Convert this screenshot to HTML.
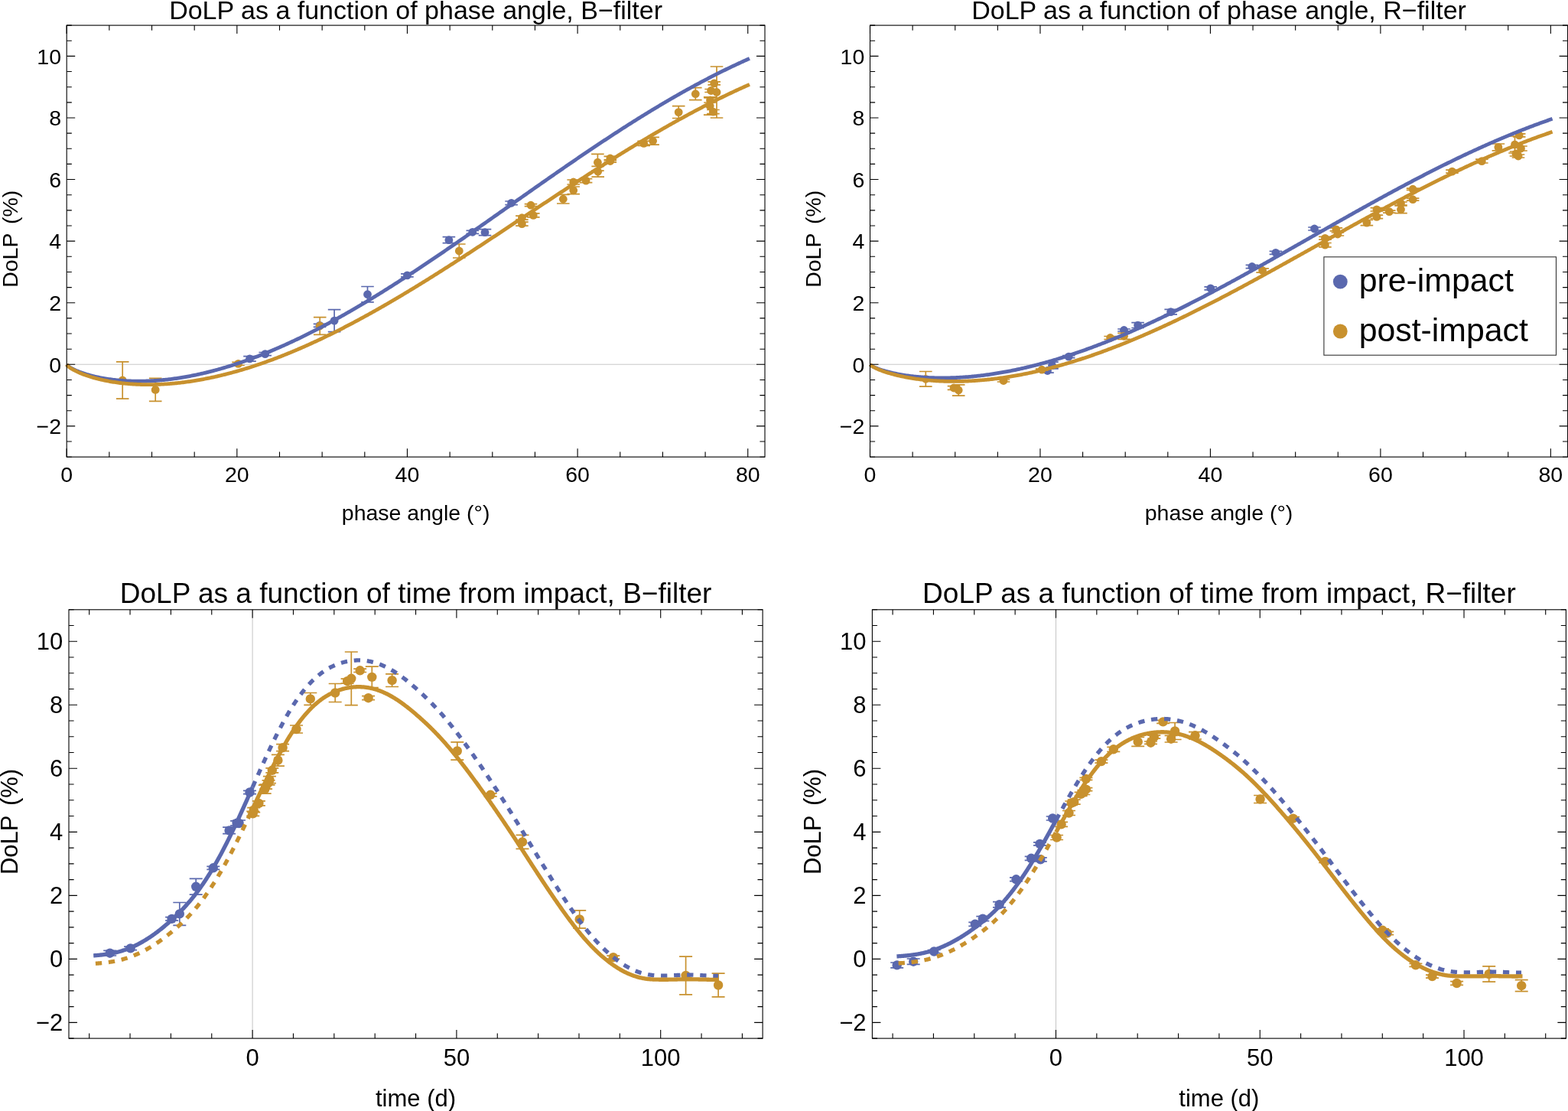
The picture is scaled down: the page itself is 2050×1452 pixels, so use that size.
<!DOCTYPE html>
<html><head><meta charset="utf-8"><title>DoLP plots</title><style>html,body{margin:0;padding:0;background:#fff;width:2050px;height:1452px;overflow:hidden}</style></head><body>
<svg xmlns="http://www.w3.org/2000/svg" width="2050" height="1452" viewBox="0 0 2050 1452" style="display:block;font-family:'Liberation Sans',Arial,Helvetica,sans-serif"><defs><clipPath id="cp1"><rect x="87.2" y="33.1" width="912.8" height="564.1"/></clipPath><clipPath id="cp2"><rect x="1137.5" y="33.1" width="912.1" height="564.1"/></clipPath><clipPath id="cp3"><rect x="90" y="796.8" width="907.1" height="560.3"/></clipPath><clipPath id="cp4"><rect x="1140.4" y="796.8" width="907" height="560.3"/></clipPath></defs>
<line x1="87.2" y1="476.32" x2="1000" y2="476.32" stroke="#c8c8c8" stroke-width="1.1"/>
<line x1="1137.5" y1="476.32" x2="2049.6" y2="476.32" stroke="#c8c8c8" stroke-width="1.1"/>
<line x1="330.11" y1="796.8" x2="330.11" y2="1357.1" stroke="#c8c8c8" stroke-width="1.1"/>
<line x1="1380.49" y1="796.8" x2="1380.49" y2="1357.1" stroke="#c8c8c8" stroke-width="1.1"/>
<g>
<path d="M326.5 465.6V472.2M318.2 465.6h16.6M318.2 472.2h16.6M346.7 460.5V464.7M338.4 460.5h16.6M338.4 464.7h16.6M418 423.3V427.3M409.7 423.3h16.6M409.7 427.3h16.6M437.1 404.6V433.6M428.8 404.6h16.6M428.8 433.6h16.6M480.5 374.5V394.9M472.2 374.5h16.6M472.2 394.9h16.6M532.4 357.9V361.9M524.1 357.9h16.6M524.1 361.9h16.6M586.9 309.7V317.7M578.6 309.7h16.6M578.6 317.7h16.6M617.8 301.3V305.3M609.5 301.3h16.6M609.5 305.3h16.6M634 299.7V307.7M625.7 299.7h16.6M625.7 307.7h16.6M668.6 263V267.6M660.3 263h16.6M660.3 267.6h16.6" stroke="#5A68AE" stroke-width="1.7" fill="none"/>
<g fill="#5A68AE"><circle cx="326.5" cy="468.9" r="5.4"/><circle cx="346.7" cy="462.6" r="5.4"/><circle cx="418" cy="425.3" r="5.4"/><circle cx="437.1" cy="419.1" r="5.4"/><circle cx="480.5" cy="384.7" r="5.4"/><circle cx="532.4" cy="359.9" r="5.4"/><circle cx="586.9" cy="313.7" r="5.4"/><circle cx="617.8" cy="303.3" r="5.4"/><circle cx="634" cy="303.7" r="5.4"/><circle cx="668.6" cy="265.3" r="5.4"/></g>
<path d="M160.2 472.8V521.2M151.9 472.8h16.6M151.9 521.2h16.6M203.2 494.4V524.4M194.9 494.4h16.6M194.9 524.4h16.6M311.5 473.3V477.5M303.2 473.3h16.6M303.2 477.5h16.6M418.2 414.7V437.3M409.9 414.7h16.6M409.9 437.3h16.6M600.3 319V337M592 319h16.6M592 337h16.6M682.4 282.2V287.2M674.1 282.2h16.6M674.1 287.2h16.6M682.4 290.1V295.1M674.1 290.1h16.6M674.1 295.1h16.6M694 266.7V269.7M685.7 266.7h16.6M685.7 269.7h16.6M697.3 278.9V283.9M689 278.9h16.6M689 283.9h16.6M736.3 254.4V266M728 254.4h16.6M728 266h16.6M749.7 235V241M741.4 235h16.6M741.4 241h16.6M749.7 244V253.6M741.4 244h16.6M741.4 253.6h16.6M766.1 233.6V238.6M757.8 233.6h16.6M757.8 238.6h16.6M781.4 201.3V223.1M773.1 201.3h16.6M773.1 223.1h16.6M781.7 217.4V231.2M773.4 217.4h16.6M773.4 231.2h16.6M797.8 204.3V209.7M789.5 204.3h16.6M789.5 209.7h16.6M797.8 208.9V212.1M789.5 208.9h16.6M789.5 212.1h16.6M841.7 184.4V190.4M833.4 184.4h16.6M833.4 190.4h16.6M853.6 179.4V189.2M845.3 179.4h16.6M845.3 189.2h16.6M887.2 138.7V154.5M878.9 138.7h16.6M878.9 154.5h16.6M909.3 114.7V130.7M901 114.7h16.6M901 130.7h16.6M933.7 106.9V110.9M925.4 106.9h16.6M925.4 110.9h16.6M929.6 116.5V120.5M921.3 116.5h16.6M921.3 120.5h16.6M937 87V154M928.7 87h16.6M928.7 154h16.6M928.5 128V134M920.2 128h16.6M920.2 134h16.6M928.2 126.8V150.2M919.9 126.8h16.6M919.9 150.2h16.6M932.4 143.5V148.7M924.1 143.5h16.6M924.1 148.7h16.6" stroke="#C8912E" stroke-width="1.7" fill="none"/>
<g fill="#C8912E"><circle cx="160.2" cy="497" r="5.4"/><circle cx="203.2" cy="509.4" r="5.4"/><circle cx="311.5" cy="475.4" r="5.4"/><circle cx="418.2" cy="426" r="5.4"/><circle cx="600.3" cy="328" r="5.4"/><circle cx="682.4" cy="284.7" r="5.4"/><circle cx="682.4" cy="292.6" r="5.4"/><circle cx="694" cy="268.2" r="5.4"/><circle cx="697.3" cy="281.4" r="5.4"/><circle cx="736.3" cy="260.2" r="5.4"/><circle cx="749.7" cy="238" r="5.4"/><circle cx="749.7" cy="248.8" r="5.4"/><circle cx="766.1" cy="236.1" r="5.4"/><circle cx="781.4" cy="212.2" r="5.4"/><circle cx="781.7" cy="224.3" r="5.4"/><circle cx="797.8" cy="207" r="5.4"/><circle cx="797.8" cy="210.5" r="5.4"/><circle cx="841.7" cy="187.4" r="5.4"/><circle cx="853.6" cy="184.3" r="5.4"/><circle cx="887.2" cy="146.6" r="5.4"/><circle cx="909.3" cy="122.7" r="5.4"/><circle cx="933.7" cy="108.9" r="5.4"/><circle cx="929.6" cy="118.5" r="5.4"/><circle cx="937" cy="120.5" r="5.4"/><circle cx="928.5" cy="131" r="5.4"/><circle cx="928.2" cy="138.5" r="5.4"/><circle cx="932.4" cy="146.1" r="5.4"/></g>
<path d="M87.2 476.32L88.69 478.06L90.18 479.21L91.67 480.2L93.16 481.09L94.65 481.91L96.14 482.68L97.63 483.4L99.12 484.08L100.61 484.73L102.1 485.34L103.59 485.94L105.09 486.5L106.58 487.05L108.07 487.57L109.56 488.08L111.05 488.56L112.54 489.03L114.03 489.48L115.52 489.92L117.01 490.34L118.5 490.74L119.99 491.13L121.48 491.51L122.97 491.87L124.46 492.22L125.95 492.56L127.44 492.89L128.93 493.2L130.42 493.5L131.91 493.79L133.4 494.07L134.89 494.34L136.38 494.6L137.87 494.85L139.36 495.09L140.86 495.32L142.35 495.54L143.84 495.75L145.33 495.94L146.82 496.13L148.31 496.32L149.8 496.49L151.29 496.65L152.78 496.8L154.27 496.95L155.76 497.09L157.25 497.21L158.74 497.33L160.23 497.44L161.72 497.55L163.21 497.64L164.7 497.73L166.19 497.81L167.68 497.88L169.17 497.94L170.66 498L172.15 498.05L173.64 498.09L175.13 498.12L176.63 498.14L178.12 498.16L179.61 498.17L181.1 498.17L182.59 498.17L184.08 498.16L185.57 498.14L187.06 498.12L188.55 498.08L190.04 498.04L191.53 498L193.02 497.95L194.51 497.89L196 497.82L197.49 497.75L198.98 497.67L200.47 497.58L201.96 497.49L203.45 497.39L204.94 497.28L206.43 497.17L207.92 497.05L209.41 496.92L210.91 496.79L212.4 496.65L213.89 496.51L215.38 496.36L216.87 496.2L218.36 496.04L219.85 495.87L221.34 495.69L222.83 495.51L224.32 495.32L225.81 495.13L227.3 494.93L228.79 494.73L230.28 494.52L231.77 494.3L233.26 494.08L234.75 493.85L236.24 493.61L237.73 493.37L239.22 493.13L240.71 492.87L242.2 492.62L243.69 492.35L245.18 492.08L246.68 491.81L248.17 491.53L249.66 491.24L251.15 490.95L252.64 490.66L254.13 490.35L255.62 490.05L257.11 489.73L258.6 489.42L260.09 489.09L261.58 488.76L263.07 488.43L264.56 488.09L266.05 487.74L267.54 487.39L269.03 487.04L270.52 486.68L272.01 486.31L273.5 485.94L274.99 485.56L276.48 485.18L277.97 484.8L279.46 484.4L280.95 484.01L282.45 483.61L283.94 483.2L285.43 482.79L286.92 482.37L288.41 481.95L289.9 481.52L291.39 481.09L292.88 480.66L294.37 480.21L295.86 479.77L297.35 479.32L298.84 478.86L300.33 478.4L301.82 477.94L303.31 477.47L304.8 476.99L306.29 476.51L307.78 476.03L309.27 475.54L310.76 475.05L312.25 474.55L313.74 474.05L315.23 473.54L316.73 473.03L318.22 472.51L319.71 471.99L321.2 471.47L322.69 470.94L324.18 470.4L325.67 469.86L327.16 469.32L328.65 468.77L330.14 468.22L331.63 467.66L333.12 467.1L334.61 466.54L336.1 465.97L337.59 465.4L339.08 464.82L340.57 464.24L342.06 463.65L343.55 463.06L345.04 462.47L346.53 461.87L348.02 461.26L349.51 460.66L351 460.05L352.5 459.43L353.99 458.81L355.48 458.19L356.97 457.56L358.46 456.93L359.95 456.29L361.44 455.66L362.93 455.01L364.42 454.36L365.91 453.71L367.4 453.06L368.89 452.4L370.38 451.74L371.87 451.07L373.36 450.4L374.85 449.73L376.34 449.05L377.83 448.37L379.32 447.68L380.81 446.99L382.3 446.3L383.79 445.6L385.28 444.9L386.77 444.2L388.27 443.49L389.76 442.78L391.25 442.06L392.74 441.34L394.23 440.62L395.72 439.9L397.21 439.17L398.7 438.43L400.19 437.7L401.68 436.96L403.17 436.22L404.66 435.47L406.15 434.72L407.64 433.97L409.13 433.21L410.62 432.45L412.11 431.69L413.6 430.92L415.09 430.15L416.58 429.38L418.07 428.6L419.56 427.82L421.05 427.04L422.55 426.25L424.04 425.46L425.53 424.67L427.02 423.87L428.51 423.07L430 422.27L431.49 421.47L432.98 420.66L434.47 419.85L435.96 419.03L437.45 418.22L438.94 417.4L440.43 416.57L441.92 415.75L443.41 414.92L444.9 414.09L446.39 413.25L447.88 412.41L449.37 411.57L450.86 410.73L452.35 409.88L453.84 409.03L455.33 408.18L456.82 407.33L458.32 406.47L459.81 405.61L461.3 404.75L462.79 403.88L464.28 403.01L465.77 402.14L467.26 401.27L468.75 400.39L470.24 399.51L471.73 398.63L473.22 397.75L474.71 396.86L476.2 395.97L477.69 395.08L479.18 394.19L480.67 393.29L482.16 392.39L483.65 391.49L485.14 390.59L486.63 389.68L488.12 388.77L489.61 387.86L491.1 386.95L492.59 386.03L494.09 385.12L495.58 384.2L497.07 383.27L498.56 382.35L500.05 381.42L501.54 380.49L503.03 379.56L504.52 378.63L506.01 377.7L507.5 376.76L508.99 375.82L510.48 374.88L511.97 373.93L513.46 372.99L514.95 372.04L516.44 371.09L517.93 370.14L519.42 369.19L520.91 368.23L522.4 367.27L523.89 366.31L525.38 365.35L526.87 364.39L528.36 363.42L529.86 362.46L531.35 361.49L532.84 360.52L534.33 359.55L535.82 358.57L537.31 357.6L538.8 356.62L540.29 355.64L541.78 354.66L543.27 353.68L544.76 352.69L546.25 351.71L547.74 350.72L549.23 349.73L550.72 348.74L552.21 347.75L553.7 346.76L555.19 345.76L556.68 344.77L558.17 343.77L559.66 342.77L561.15 341.77L562.64 340.77L564.14 339.77L565.63 338.76L567.12 337.76L568.61 336.75L570.1 335.74L571.59 334.73L573.08 333.72L574.57 332.71L576.06 331.69L577.55 330.68L579.04 329.66L580.53 328.65L582.02 327.63L583.51 326.61L585 325.59L586.49 324.57L587.98 323.55L589.47 322.52L590.96 321.5L592.45 320.47L593.94 319.45L595.43 318.42L596.92 317.39L598.41 316.36L599.91 315.33L601.4 314.3L602.89 313.27L604.38 312.24L605.87 311.2L607.36 310.17L608.85 309.14L610.34 308.1L611.83 307.06L613.32 306.03L614.81 304.99L616.3 303.95L617.79 302.91L619.28 301.87L620.77 300.83L622.26 299.79L623.75 298.75L625.24 297.71L626.73 296.66L628.22 295.62L629.71 294.58L631.2 293.53L632.69 292.49L634.18 291.44L635.68 290.4L637.17 289.35L638.66 288.3L640.15 287.26L641.64 286.21L643.13 285.16L644.62 284.12L646.11 283.07L647.6 282.02L649.09 280.97L650.58 279.92L652.07 278.87L653.56 277.82L655.05 276.78L656.54 275.73L658.03 274.68L659.52 273.63L661.01 272.58L662.5 271.53L663.99 270.48L665.48 269.43L666.97 268.38L668.46 267.33L669.96 266.28L671.45 265.23L672.94 264.18L674.43 263.13L675.92 262.08L677.41 261.03L678.9 259.98L680.39 258.93L681.88 257.89L683.37 256.84L684.86 255.79L686.35 254.74L687.84 253.69L689.33 252.64L690.82 251.6L692.31 250.55L693.8 249.5L695.29 248.46L696.78 247.41L698.27 246.37L699.76 245.32L701.25 244.28L702.74 243.23L704.23 242.19L705.73 241.15L707.22 240.1L708.71 239.06L710.2 238.02L711.69 236.98L713.18 235.94L714.67 234.9L716.16 233.86L717.65 232.82L719.14 231.78L720.63 230.75L722.12 229.71L723.61 228.67L725.1 227.64L726.59 226.6L728.08 225.57L729.57 224.54L731.06 223.51L732.55 222.48L734.04 221.45L735.53 220.42L737.02 219.39L738.51 218.36L740 217.33L741.5 216.31L742.99 215.28L744.48 214.26L745.97 213.24L747.46 212.22L748.95 211.2L750.44 210.18L751.93 209.16L753.42 208.14L754.91 207.12L756.4 206.11L757.89 205.1L759.38 204.08L760.87 203.07L762.36 202.06L763.85 201.05L765.34 200.04L766.83 199.04L768.32 198.03L769.81 197.03L771.3 196.03L772.79 195.02L774.28 194.02L775.78 193.03L777.27 192.03L778.76 191.03L780.25 190.04L781.74 189.04L783.23 188.05L784.72 187.06L786.21 186.07L787.7 185.09L789.19 184.1L790.68 183.12L792.17 182.14L793.66 181.15L795.15 180.18L796.64 179.2L798.13 178.22L799.62 177.25L801.11 176.27L802.6 175.3L804.09 174.33L805.58 173.37L807.07 172.4L808.56 171.44L810.05 170.48L811.55 169.51L813.04 168.56L814.53 167.6L816.02 166.64L817.51 165.69L819 164.74L820.49 163.79L821.98 162.84L823.47 161.9L824.96 160.95L826.45 160.01L827.94 159.07L829.43 158.14L830.92 157.2L832.41 156.27L833.9 155.33L835.39 154.41L836.88 153.48L838.37 152.55L839.86 151.63L841.35 150.71L842.84 149.79L844.33 148.87L845.82 147.96L847.32 147.05L848.81 146.14L850.3 145.23L851.79 144.32L853.28 143.42L854.77 142.52L856.26 141.62L857.75 140.72L859.24 139.83L860.73 138.94L862.22 138.05L863.71 137.16L865.2 136.27L866.69 135.39L868.18 134.51L869.67 133.63L871.16 132.76L872.65 131.89L874.14 131.02L875.63 130.15L877.12 129.28L878.61 128.42L880.1 127.56L881.6 126.7L883.09 125.85L884.58 125L886.07 124.15L887.56 123.3L889.05 122.46L890.54 121.61L892.03 120.77L893.52 119.94L895.01 119.1L896.5 118.27L897.99 117.44L899.48 116.62L900.97 115.8L902.46 114.98L903.95 114.16L905.44 113.34L906.93 112.53L908.42 111.72L909.91 110.92L911.4 110.11L912.89 109.31L914.38 108.52L915.87 107.72L917.37 106.93L918.86 106.14L920.35 105.36L921.84 104.57L923.33 103.79L924.82 103.02L926.31 102.24L927.8 101.47L929.29 100.7L930.78 99.94L932.27 99.18L933.76 98.42L935.25 97.66L936.74 96.91L938.23 96.16L939.72 95.41L941.21 94.67L942.7 93.93L944.19 93.19L945.68 92.46L947.17 91.73L948.66 91L950.15 90.28L951.64 89.56L953.14 88.84L954.63 88.12L956.12 87.41L957.61 86.7L959.1 86L960.59 85.3L962.08 84.6L963.57 83.9L965.06 83.21L966.55 82.52L968.04 81.84L969.53 81.16L971.02 80.48L972.51 79.81L974 79.13L975.49 78.47L976.98 77.8L978.47 77.14L979.96 76.48" stroke="#5A68AE" stroke-width="4.8" fill="none" stroke-linejoin="round"/>
<path d="M87.2 476.32L88.69 478.29L90.18 479.57L91.67 480.67L93.16 481.66L94.65 482.57L96.14 483.42L97.63 484.22L99.12 484.98L100.61 485.7L102.1 486.4L103.59 487.06L105.09 487.7L106.58 488.31L108.07 488.9L109.56 489.47L111.05 490.02L112.54 490.55L114.03 491.07L115.52 491.56L117.01 492.04L118.5 492.51L119.99 492.96L121.48 493.4L122.97 493.82L124.46 494.23L125.95 494.63L127.44 495.02L128.93 495.39L130.42 495.75L131.91 496.1L133.4 496.44L134.89 496.77L136.38 497.08L137.87 497.39L139.36 497.69L140.86 497.97L142.35 498.25L143.84 498.52L145.33 498.77L146.82 499.02L148.31 499.26L149.8 499.49L151.29 499.71L152.78 499.92L154.27 500.12L155.76 500.32L157.25 500.5L158.74 500.68L160.23 500.85L161.72 501.01L163.21 501.16L164.7 501.31L166.19 501.44L167.68 501.57L169.17 501.7L170.66 501.81L172.15 501.92L173.64 502.01L175.13 502.11L176.63 502.19L178.12 502.27L179.61 502.34L181.1 502.4L182.59 502.45L184.08 502.5L185.57 502.54L187.06 502.58L188.55 502.6L190.04 502.62L191.53 502.64L193.02 502.64L194.51 502.64L196 502.64L197.49 502.62L198.98 502.6L200.47 502.58L201.96 502.55L203.45 502.51L204.94 502.46L206.43 502.41L207.92 502.35L209.41 502.29L210.91 502.22L212.4 502.14L213.89 502.06L215.38 501.97L216.87 501.87L218.36 501.77L219.85 501.67L221.34 501.55L222.83 501.44L224.32 501.31L225.81 501.18L227.3 501.04L228.79 500.9L230.28 500.75L231.77 500.6L233.26 500.44L234.75 500.27L236.24 500.1L237.73 499.93L239.22 499.75L240.71 499.56L242.2 499.36L243.69 499.17L245.18 498.96L246.68 498.75L248.17 498.54L249.66 498.32L251.15 498.09L252.64 497.86L254.13 497.62L255.62 497.38L257.11 497.13L258.6 496.88L260.09 496.62L261.58 496.36L263.07 496.09L264.56 495.82L266.05 495.54L267.54 495.26L269.03 494.97L270.52 494.67L272.01 494.37L273.5 494.07L274.99 493.76L276.48 493.45L277.97 493.13L279.46 492.8L280.95 492.48L282.45 492.14L283.94 491.8L285.43 491.46L286.92 491.11L288.41 490.76L289.9 490.4L291.39 490.04L292.88 489.67L294.37 489.3L295.86 488.92L297.35 488.54L298.84 488.15L300.33 487.76L301.82 487.37L303.31 486.97L304.8 486.56L306.29 486.15L307.78 485.74L309.27 485.32L310.76 484.9L312.25 484.47L313.74 484.04L315.23 483.6L316.73 483.16L318.22 482.71L319.71 482.26L321.2 481.81L322.69 481.35L324.18 480.89L325.67 480.42L327.16 479.95L328.65 479.47L330.14 478.99L331.63 478.51L333.12 478.02L334.61 477.52L336.1 477.03L337.59 476.53L339.08 476.02L340.57 475.51L342.06 475L343.55 474.48L345.04 473.96L346.53 473.43L348.02 472.9L349.51 472.36L351 471.83L352.5 471.28L353.99 470.74L355.48 470.19L356.97 469.63L358.46 469.07L359.95 468.51L361.44 467.95L362.93 467.38L364.42 466.8L365.91 466.22L367.4 465.64L368.89 465.06L370.38 464.47L371.87 463.87L373.36 463.28L374.85 462.68L376.34 462.07L377.83 461.46L379.32 460.85L380.81 460.24L382.3 459.62L383.79 459L385.28 458.37L386.77 457.74L388.27 457.11L389.76 456.47L391.25 455.83L392.74 455.18L394.23 454.54L395.72 453.89L397.21 453.23L398.7 452.57L400.19 451.91L401.68 451.25L403.17 450.58L404.66 449.91L406.15 449.23L407.64 448.55L409.13 447.87L410.62 447.19L412.11 446.5L413.6 445.81L415.09 445.11L416.58 444.41L418.07 443.71L419.56 443.01L421.05 442.3L422.55 441.59L424.04 440.87L425.53 440.15L427.02 439.43L428.51 438.71L430 437.98L431.49 437.25L432.98 436.52L434.47 435.78L435.96 435.05L437.45 434.3L438.94 433.56L440.43 432.81L441.92 432.06L443.41 431.31L444.9 430.55L446.39 429.79L447.88 429.03L449.37 428.26L450.86 427.49L452.35 426.72L453.84 425.95L455.33 425.17L456.82 424.39L458.32 423.61L459.81 422.82L461.3 422.04L462.79 421.24L464.28 420.45L465.77 419.66L467.26 418.86L468.75 418.06L470.24 417.25L471.73 416.45L473.22 415.64L474.71 414.83L476.2 414.01L477.69 413.2L479.18 412.38L480.67 411.55L482.16 410.73L483.65 409.9L485.14 409.07L486.63 408.24L488.12 407.41L489.61 406.57L491.1 405.74L492.59 404.89L494.09 404.05L495.58 403.21L497.07 402.36L498.56 401.51L500.05 400.66L501.54 399.8L503.03 398.94L504.52 398.08L506.01 397.22L507.5 396.36L508.99 395.49L510.48 394.63L511.97 393.76L513.46 392.89L514.95 392.01L516.44 391.14L517.93 390.26L519.42 389.38L520.91 388.5L522.4 387.61L523.89 386.73L525.38 385.84L526.87 384.95L528.36 384.06L529.86 383.16L531.35 382.27L532.84 381.37L534.33 380.47L535.82 379.57L537.31 378.67L538.8 377.76L540.29 376.85L541.78 375.95L543.27 375.04L544.76 374.12L546.25 373.21L547.74 372.3L549.23 371.38L550.72 370.46L552.21 369.54L553.7 368.62L555.19 367.7L556.68 366.77L558.17 365.85L559.66 364.92L561.15 363.99L562.64 363.06L564.14 362.13L565.63 361.19L567.12 360.26L568.61 359.32L570.1 358.38L571.59 357.44L573.08 356.5L574.57 355.56L576.06 354.62L577.55 353.67L579.04 352.73L580.53 351.78L582.02 350.83L583.51 349.88L585 348.93L586.49 347.98L587.98 347.02L589.47 346.07L590.96 345.11L592.45 344.16L593.94 343.2L595.43 342.24L596.92 341.28L598.41 340.32L599.91 339.36L601.4 338.4L602.89 337.43L604.38 336.47L605.87 335.5L607.36 334.53L608.85 333.57L610.34 332.6L611.83 331.63L613.32 330.66L614.81 329.69L616.3 328.71L617.79 327.74L619.28 326.77L620.77 325.79L622.26 324.82L623.75 323.84L625.24 322.86L626.73 321.89L628.22 320.91L629.71 319.93L631.2 318.95L632.69 317.97L634.18 316.99L635.68 316.01L637.17 315.03L638.66 314.04L640.15 313.06L641.64 312.08L643.13 311.09L644.62 310.11L646.11 309.13L647.6 308.14L649.09 307.15L650.58 306.17L652.07 305.18L653.56 304.2L655.05 303.21L656.54 302.22L658.03 301.23L659.52 300.24L661.01 299.26L662.5 298.27L663.99 297.28L665.48 296.29L666.97 295.3L668.46 294.31L669.96 293.32L671.45 292.33L672.94 291.34L674.43 290.35L675.92 289.36L677.41 288.37L678.9 287.38L680.39 286.39L681.88 285.4L683.37 284.41L684.86 283.42L686.35 282.43L687.84 281.44L689.33 280.45L690.82 279.46L692.31 278.47L693.8 277.48L695.29 276.49L696.78 275.5L698.27 274.51L699.76 273.52L701.25 272.54L702.74 271.55L704.23 270.56L705.73 269.57L707.22 268.58L708.71 267.6L710.2 266.61L711.69 265.62L713.18 264.64L714.67 263.65L716.16 262.66L717.65 261.68L719.14 260.69L720.63 259.71L722.12 258.73L723.61 257.74L725.1 256.76L726.59 255.78L728.08 254.8L729.57 253.81L731.06 252.83L732.55 251.85L734.04 250.87L735.53 249.9L737.02 248.92L738.51 247.94L740 246.96L741.5 245.99L742.99 245.01L744.48 244.04L745.97 243.06L747.46 242.09L748.95 241.12L750.44 240.15L751.93 239.18L753.42 238.21L754.91 237.24L756.4 236.27L757.89 235.3L759.38 234.34L760.87 233.37L762.36 232.41L763.85 231.44L765.34 230.48L766.83 229.52L768.32 228.56L769.81 227.6L771.3 226.64L772.79 225.69L774.28 224.73L775.78 223.77L777.27 222.82L778.76 221.87L780.25 220.92L781.74 219.97L783.23 219.02L784.72 218.07L786.21 217.12L787.7 216.18L789.19 215.23L790.68 214.29L792.17 213.35L793.66 212.41L795.15 211.47L796.64 210.53L798.13 209.59L799.62 208.66L801.11 207.73L802.6 206.79L804.09 205.86L805.58 204.93L807.07 204.01L808.56 203.08L810.05 202.15L811.55 201.23L813.04 200.31L814.53 199.39L816.02 198.47L817.51 197.55L819 196.64L820.49 195.72L821.98 194.81L823.47 193.9L824.96 192.99L826.45 192.08L827.94 191.18L829.43 190.27L830.92 189.37L832.41 188.47L833.9 187.57L835.39 186.68L836.88 185.78L838.37 184.89L839.86 184L841.35 183.11L842.84 182.22L844.33 181.33L845.82 180.45L847.32 179.57L848.81 178.68L850.3 177.81L851.79 176.93L853.28 176.06L854.77 175.18L856.26 174.31L857.75 173.44L859.24 172.58L860.73 171.71L862.22 170.85L863.71 169.99L865.2 169.13L866.69 168.27L868.18 167.42L869.67 166.57L871.16 165.72L872.65 164.87L874.14 164.03L875.63 163.18L877.12 162.34L878.61 161.5L880.1 160.66L881.6 159.83L883.09 159L884.58 158.17L886.07 157.34L887.56 156.52L889.05 155.69L890.54 154.87L892.03 154.05L893.52 153.24L895.01 152.42L896.5 151.61L897.99 150.8L899.48 150L900.97 149.19L902.46 148.39L903.95 147.59L905.44 146.8L906.93 146L908.42 145.21L909.91 144.42L911.4 143.63L912.89 142.85L914.38 142.07L915.87 141.29L917.37 140.51L918.86 139.74L920.35 138.97L921.84 138.2L923.33 137.43L924.82 136.67L926.31 135.91L927.8 135.15L929.29 134.4L930.78 133.64L932.27 132.89L933.76 132.15L935.25 131.4L936.74 130.66L938.23 129.92L939.72 129.19L941.21 128.45L942.7 127.72L944.19 126.99L945.68 126.27L947.17 125.55L948.66 124.83L950.15 124.11L951.64 123.4L953.14 122.69L954.63 121.98L956.12 121.28L957.61 120.58L959.1 119.88L960.59 119.18L962.08 118.49L963.57 117.8L965.06 117.11L966.55 116.43L968.04 115.75L969.53 115.07L971.02 114.39L972.51 113.72L974 113.05L975.49 112.39L976.98 111.73L978.47 111.07L979.96 110.41" stroke="#C8912E" stroke-width="4.8" fill="none" stroke-linejoin="round"/>
</g>
<g>
<path d="M1369.5 481.9V487.1M1361.2 481.9h16.6M1361.2 487.1h16.6M1375.5 473.1V481.9M1367.2 473.1h16.6M1367.2 481.9h16.6M1397.2 464.6V467.6M1388.9 464.6h16.6M1388.9 467.6h16.6M1469.5 430V433M1461.2 430h16.6M1461.2 433h16.6M1487.6 421.7V428.5M1479.3 421.7h16.6M1479.3 428.5h16.6M1530.7 404.4V410.8M1522.4 404.4h16.6M1522.4 410.8h16.6M1582.7 374.8V378.8M1574.4 374.8h16.6M1574.4 378.8h16.6M1636.9 346.4V350.6M1628.6 346.4h16.6M1628.6 350.6h16.6M1667.9 328.3V332.3M1659.6 328.3h16.6M1659.6 332.3h16.6M1718.5 297V301M1710.2 297h16.6M1710.2 301h16.6" stroke="#5A68AE" stroke-width="1.7" fill="none"/>
<g fill="#5A68AE"><circle cx="1369.5" cy="484.5" r="5.4"/><circle cx="1375.5" cy="477.5" r="5.4"/><circle cx="1397.2" cy="466.1" r="5.4"/><circle cx="1469.5" cy="431.5" r="5.4"/><circle cx="1487.6" cy="425.1" r="5.4"/><circle cx="1530.7" cy="407.6" r="5.4"/><circle cx="1582.7" cy="376.8" r="5.4"/><circle cx="1636.9" cy="348.5" r="5.4"/><circle cx="1667.9" cy="330.3" r="5.4"/><circle cx="1718.5" cy="299" r="5.4"/></g>
<path d="M1210.3 485.5V505.1M1202 485.5h16.6M1202 505.1h16.6M1247 504.7V509.3M1238.7 504.7h16.6M1238.7 509.3h16.6M1253.2 502.8V517.2M1244.9 502.8h16.6M1244.9 517.2h16.6M1312 496V499M1303.7 496h16.6M1303.7 499h16.6M1362.1 482.2V484.2M1353.8 482.2h16.6M1353.8 484.2h16.6M1451.6 439.5V443.5M1443.3 439.5h16.6M1443.3 443.5h16.6M1469.5 435.3V443.3M1461.2 435.3h16.6M1461.2 443.3h16.6M1650.6 350.8V356.2M1642.3 350.8h16.6M1642.3 356.2h16.6M1732.4 309.4V313.2M1724.1 309.4h16.6M1724.1 313.2h16.6M1732.4 317.5V322.9M1724.1 317.5h16.6M1724.1 322.9h16.6M1746.9 297.8V301.8M1738.6 297.8h16.6M1738.6 301.8h16.6M1748.9 304V308M1740.6 304h16.6M1740.6 308h16.6M1786.9 287.5V294.7M1778.6 287.5h16.6M1778.6 294.7h16.6M1799.9 271.6V276M1791.6 271.6h16.6M1791.6 276h16.6M1799.9 281.2V285.6M1791.6 281.2h16.6M1791.6 285.6h16.6M1816.3 275.1V278.1M1808 275.1h16.6M1808 278.1h16.6M1831.5 264V268M1823.2 264h16.6M1823.2 268h16.6M1831.5 269V278.6M1823.2 269h16.6M1823.2 278.6h16.6M1847.1 246.1V248.3M1838.8 246.1h16.6M1838.8 248.3h16.6M1847.1 259.2V262.2M1838.8 259.2h16.6M1838.8 262.2h16.6M1898.5 222.1V226.1M1890.2 222.1h16.6M1890.2 226.1h16.6M1937.3 208.2V213M1929 208.2h16.6M1929 213h16.6M1958.9 188V196.8M1950.6 188h16.6M1950.6 196.8h16.6M1986.2 174.9V178.9M1977.9 174.9h16.6M1977.9 178.9h16.6M1980.5 178V200M1972.2 178h16.6M1972.2 200h16.6M1988.5 191V197M1980.2 191h16.6M1980.2 197h16.6M1982 198V204M1973.7 198h16.6M1973.7 204h16.6M1985 202V206M1976.7 202h16.6M1976.7 206h16.6" stroke="#C8912E" stroke-width="1.7" fill="none"/>
<g fill="#C8912E"><circle cx="1210.3" cy="495.3" r="5.4"/><circle cx="1247" cy="507" r="5.4"/><circle cx="1253.2" cy="510" r="5.4"/><circle cx="1312" cy="497.5" r="5.4"/><circle cx="1362.1" cy="483.2" r="5.4"/><circle cx="1451.6" cy="441.5" r="5.4"/><circle cx="1469.5" cy="439.3" r="5.4"/><circle cx="1650.6" cy="353.5" r="5.4"/><circle cx="1732.4" cy="311.3" r="5.4"/><circle cx="1732.4" cy="320.2" r="5.4"/><circle cx="1746.9" cy="299.8" r="5.4"/><circle cx="1748.9" cy="306" r="5.4"/><circle cx="1786.9" cy="291.1" r="5.4"/><circle cx="1799.9" cy="273.8" r="5.4"/><circle cx="1799.9" cy="283.4" r="5.4"/><circle cx="1816.3" cy="276.6" r="5.4"/><circle cx="1831.5" cy="266" r="5.4"/><circle cx="1831.5" cy="273.8" r="5.4"/><circle cx="1847.1" cy="247.2" r="5.4"/><circle cx="1847.1" cy="260.7" r="5.4"/><circle cx="1898.5" cy="224.1" r="5.4"/><circle cx="1937.3" cy="210.6" r="5.4"/><circle cx="1958.9" cy="192.4" r="5.4"/><circle cx="1986.2" cy="176.9" r="5.4"/><circle cx="1980.5" cy="189" r="5.4"/><circle cx="1988.5" cy="194" r="5.4"/><circle cx="1982" cy="201" r="5.4"/><circle cx="1985" cy="204" r="5.4"/></g>
<path d="M1137.5 476.32L1138.99 477.68L1140.48 478.59L1141.97 479.37L1143.46 480.08L1144.95 480.73L1146.44 481.34L1147.92 481.91L1149.41 482.46L1150.9 482.98L1152.39 483.48L1153.88 483.95L1155.37 484.41L1156.86 484.85L1158.35 485.27L1159.84 485.67L1161.33 486.06L1162.82 486.44L1164.31 486.8L1165.8 487.16L1167.29 487.5L1168.77 487.82L1170.26 488.14L1171.75 488.44L1173.24 488.74L1174.73 489.02L1176.22 489.3L1177.71 489.56L1179.2 489.82L1180.69 490.06L1182.18 490.3L1183.67 490.53L1185.16 490.75L1186.65 490.96L1188.14 491.16L1189.62 491.36L1191.11 491.54L1192.6 491.72L1194.09 491.89L1195.58 492.06L1197.07 492.21L1198.56 492.36L1200.05 492.5L1201.54 492.64L1203.03 492.76L1204.52 492.88L1206.01 493L1207.5 493.1L1208.99 493.2L1210.47 493.29L1211.96 493.38L1213.45 493.46L1214.94 493.53L1216.43 493.6L1217.92 493.66L1219.41 493.71L1220.9 493.76L1222.39 493.8L1223.88 493.84L1225.37 493.87L1226.86 493.89L1228.35 493.91L1229.84 493.92L1231.32 493.93L1232.81 493.93L1234.3 493.92L1235.79 493.91L1237.28 493.89L1238.77 493.87L1240.26 493.84L1241.75 493.8L1243.24 493.76L1244.73 493.72L1246.22 493.67L1247.71 493.61L1249.2 493.55L1250.69 493.48L1252.17 493.41L1253.66 493.33L1255.15 493.25L1256.64 493.16L1258.13 493.07L1259.62 492.97L1261.11 492.87L1262.6 492.76L1264.09 492.64L1265.58 492.53L1267.07 492.4L1268.56 492.27L1270.05 492.14L1271.54 492L1273.02 491.86L1274.51 491.71L1276 491.55L1277.49 491.39L1278.98 491.23L1280.47 491.06L1281.96 490.89L1283.45 490.71L1284.94 490.53L1286.43 490.34L1287.92 490.15L1289.41 489.96L1290.9 489.75L1292.39 489.55L1293.87 489.34L1295.36 489.12L1296.85 488.9L1298.34 488.68L1299.83 488.45L1301.32 488.22L1302.81 487.98L1304.3 487.74L1305.79 487.49L1307.28 487.24L1308.77 486.99L1310.26 486.73L1311.75 486.46L1313.23 486.2L1314.72 485.92L1316.21 485.65L1317.7 485.37L1319.19 485.08L1320.68 484.79L1322.17 484.5L1323.66 484.2L1325.15 483.9L1326.64 483.59L1328.13 483.28L1329.62 482.97L1331.11 482.65L1332.6 482.32L1334.08 482L1335.57 481.67L1337.06 481.33L1338.55 480.99L1340.04 480.65L1341.53 480.3L1343.02 479.95L1344.51 479.6L1346 479.24L1347.49 478.87L1348.98 478.51L1350.47 478.14L1351.96 477.76L1353.45 477.38L1354.93 477L1356.42 476.62L1357.91 476.23L1359.4 475.83L1360.89 475.43L1362.38 475.03L1363.87 474.63L1365.36 474.22L1366.85 473.81L1368.34 473.39L1369.83 472.97L1371.32 472.55L1372.81 472.12L1374.3 471.69L1375.78 471.26L1377.27 470.82L1378.76 470.38L1380.25 469.93L1381.74 469.48L1383.23 469.03L1384.72 468.57L1386.21 468.12L1387.7 467.65L1389.19 467.19L1390.68 466.72L1392.17 466.24L1393.66 465.77L1395.15 465.29L1396.63 464.8L1398.12 464.32L1399.61 463.83L1401.1 463.33L1402.59 462.84L1404.08 462.34L1405.57 461.83L1407.06 461.33L1408.55 460.82L1410.04 460.3L1411.53 459.79L1413.02 459.27L1414.51 458.75L1416 458.22L1417.48 457.69L1418.97 457.16L1420.46 456.62L1421.95 456.08L1423.44 455.54L1424.93 455L1426.42 454.45L1427.91 453.9L1429.4 453.34L1430.89 452.79L1432.38 452.23L1433.87 451.66L1435.36 451.1L1436.85 450.53L1438.33 449.96L1439.82 449.38L1441.31 448.8L1442.8 448.22L1444.29 447.64L1445.78 447.05L1447.27 446.46L1448.76 445.87L1450.25 445.28L1451.74 444.68L1453.23 444.08L1454.72 443.47L1456.21 442.87L1457.7 442.26L1459.18 441.65L1460.67 441.03L1462.16 440.41L1463.65 439.79L1465.14 439.17L1466.63 438.55L1468.12 437.92L1469.61 437.29L1471.1 436.65L1472.59 436.02L1474.08 435.38L1475.57 434.74L1477.06 434.09L1478.54 433.45L1480.03 432.8L1481.52 432.15L1483.01 431.49L1484.5 430.84L1485.99 430.18L1487.48 429.52L1488.97 428.86L1490.46 428.19L1491.95 427.52L1493.44 426.85L1494.93 426.18L1496.42 425.5L1497.91 424.82L1499.39 424.14L1500.88 423.46L1502.37 422.78L1503.86 422.09L1505.35 421.4L1506.84 420.71L1508.33 420.02L1509.82 419.32L1511.31 418.62L1512.8 417.92L1514.29 417.22L1515.78 416.51L1517.27 415.81L1518.76 415.1L1520.24 414.39L1521.73 413.67L1523.22 412.96L1524.71 412.24L1526.2 411.52L1527.69 410.8L1529.18 410.08L1530.67 409.35L1532.16 408.63L1533.65 407.9L1535.14 407.17L1536.63 406.43L1538.12 405.7L1539.61 404.96L1541.09 404.22L1542.58 403.48L1544.07 402.74L1545.56 401.99L1547.05 401.25L1548.54 400.5L1550.03 399.75L1551.52 399L1553.01 398.25L1554.5 397.49L1555.99 396.73L1557.48 395.98L1558.97 395.22L1560.46 394.45L1561.94 393.69L1563.43 392.93L1564.92 392.16L1566.41 391.39L1567.9 390.62L1569.39 389.85L1570.88 389.08L1572.37 388.3L1573.86 387.53L1575.35 386.75L1576.84 385.97L1578.33 385.19L1579.82 384.41L1581.31 383.63L1582.79 382.84L1584.28 382.05L1585.77 381.27L1587.26 380.48L1588.75 379.69L1590.24 378.9L1591.73 378.1L1593.22 377.31L1594.71 376.51L1596.2 375.72L1597.69 374.92L1599.18 374.12L1600.67 373.32L1602.16 372.52L1603.64 371.71L1605.13 370.91L1606.62 370.1L1608.11 369.3L1609.6 368.49L1611.09 367.68L1612.58 366.87L1614.07 366.06L1615.56 365.25L1617.05 364.43L1618.54 363.62L1620.03 362.81L1621.52 361.99L1623.01 361.17L1624.49 360.35L1625.98 359.53L1627.47 358.71L1628.96 357.89L1630.45 357.07L1631.94 356.25L1633.43 355.43L1634.92 354.6L1636.41 353.78L1637.9 352.95L1639.39 352.12L1640.88 351.3L1642.37 350.47L1643.85 349.64L1645.34 348.81L1646.83 347.98L1648.32 347.15L1649.81 346.31L1651.3 345.48L1652.79 344.65L1654.28 343.81L1655.77 342.98L1657.26 342.14L1658.75 341.31L1660.24 340.47L1661.73 339.63L1663.22 338.8L1664.7 337.96L1666.19 337.12L1667.68 336.28L1669.17 335.44L1670.66 334.6L1672.15 333.76L1673.64 332.92L1675.13 332.08L1676.62 331.24L1678.11 330.39L1679.6 329.55L1681.09 328.71L1682.58 327.87L1684.07 327.02L1685.55 326.18L1687.04 325.33L1688.53 324.49L1690.02 323.65L1691.51 322.8L1693 321.96L1694.49 321.11L1695.98 320.27L1697.47 319.42L1698.96 318.57L1700.45 317.73L1701.94 316.88L1703.43 316.04L1704.92 315.19L1706.4 314.34L1707.89 313.5L1709.38 312.65L1710.87 311.8L1712.36 310.96L1713.85 310.11L1715.34 309.27L1716.83 308.42L1718.32 307.57L1719.81 306.73L1721.3 305.88L1722.79 305.03L1724.28 304.19L1725.77 303.34L1727.25 302.5L1728.74 301.65L1730.23 300.81L1731.72 299.96L1733.21 299.12L1734.7 298.27L1736.19 297.43L1737.68 296.58L1739.17 295.74L1740.66 294.9L1742.15 294.05L1743.64 293.21L1745.13 292.37L1746.62 291.53L1748.1 290.69L1749.59 289.84L1751.08 289L1752.57 288.16L1754.06 287.32L1755.55 286.48L1757.04 285.64L1758.53 284.81L1760.02 283.97L1761.51 283.13L1763 282.29L1764.49 281.46L1765.98 280.62L1767.47 279.79L1768.95 278.95L1770.44 278.12L1771.93 277.28L1773.42 276.45L1774.91 275.62L1776.4 274.79L1777.89 273.96L1779.38 273.13L1780.87 272.3L1782.36 271.47L1783.85 270.64L1785.34 269.81L1786.83 268.99L1788.32 268.16L1789.8 267.34L1791.29 266.51L1792.78 265.69L1794.27 264.87L1795.76 264.05L1797.25 263.23L1798.74 262.41L1800.23 261.59L1801.72 260.77L1803.21 259.95L1804.7 259.14L1806.19 258.32L1807.68 257.51L1809.16 256.7L1810.65 255.88L1812.14 255.07L1813.63 254.26L1815.12 253.46L1816.61 252.65L1818.1 251.84L1819.59 251.04L1821.08 250.23L1822.57 249.43L1824.06 248.63L1825.55 247.83L1827.04 247.03L1828.53 246.23L1830.01 245.43L1831.5 244.64L1832.99 243.84L1834.48 243.05L1835.97 242.26L1837.46 241.47L1838.95 240.68L1840.44 239.89L1841.93 239.1L1843.42 238.32L1844.91 237.53L1846.4 236.75L1847.89 235.97L1849.38 235.19L1850.86 234.41L1852.35 233.64L1853.84 232.86L1855.33 232.09L1856.82 231.31L1858.31 230.54L1859.8 229.77L1861.29 229.01L1862.78 228.24L1864.27 227.48L1865.76 226.71L1867.25 225.95L1868.74 225.19L1870.23 224.43L1871.71 223.68L1873.2 222.92L1874.69 222.17L1876.18 221.41L1877.67 220.66L1879.16 219.92L1880.65 219.17L1882.14 218.42L1883.63 217.68L1885.12 216.94L1886.61 216.2L1888.1 215.46L1889.59 214.73L1891.08 213.99L1892.56 213.26L1894.05 212.53L1895.54 211.8L1897.03 211.07L1898.52 210.35L1900.01 209.62L1901.5 208.9L1902.99 208.18L1904.48 207.46L1905.97 206.75L1907.46 206.03L1908.95 205.32L1910.44 204.61L1911.93 203.91L1913.41 203.2L1914.9 202.5L1916.39 201.79L1917.88 201.09L1919.37 200.4L1920.86 199.7L1922.35 199.01L1923.84 198.32L1925.33 197.63L1926.82 196.94L1928.31 196.25L1929.8 195.57L1931.29 194.89L1932.78 194.21L1934.26 193.54L1935.75 192.86L1937.24 192.19L1938.73 191.52L1940.22 190.85L1941.71 190.19L1943.2 189.52L1944.69 188.86L1946.18 188.2L1947.67 187.55L1949.16 186.89L1950.65 186.24L1952.14 185.59L1953.63 184.94L1955.11 184.3L1956.6 183.66L1958.09 183.02L1959.58 182.38L1961.07 181.74L1962.56 181.11L1964.05 180.48L1965.54 179.85L1967.03 179.23L1968.52 178.6L1970.01 177.98L1971.5 177.36L1972.99 176.75L1974.47 176.14L1975.96 175.53L1977.45 174.92L1978.94 174.31L1980.43 173.71L1981.92 173.11L1983.41 172.51L1984.9 171.91L1986.39 171.32L1987.88 170.73L1989.37 170.14L1990.86 169.56L1992.35 168.97L1993.84 168.39L1995.32 167.82L1996.81 167.24L1998.3 166.67L1999.79 166.1L2001.28 165.54L2002.77 164.97L2004.26 164.41L2005.75 163.85L2007.24 163.3L2008.73 162.74L2010.22 162.19L2011.71 161.65L2013.2 161.1L2014.69 160.56L2016.17 160.02L2017.66 159.48L2019.15 158.95L2020.64 158.42L2022.13 157.89L2023.62 157.37L2025.11 156.84L2026.6 156.32L2028.09 155.81L2029.58 155.29" stroke="#5A68AE" stroke-width="4.8" fill="none" stroke-linejoin="round"/>
<path d="M1137.5 476.32L1138.99 477.79L1140.48 478.8L1141.97 479.67L1143.46 480.46L1144.95 481.2L1146.44 481.89L1147.92 482.54L1149.41 483.16L1150.9 483.76L1152.39 484.33L1153.88 484.88L1155.37 485.41L1156.86 485.92L1158.35 486.41L1159.84 486.88L1161.33 487.34L1162.82 487.79L1164.31 488.22L1165.8 488.64L1167.29 489.05L1168.77 489.44L1170.26 489.83L1171.75 490.2L1173.24 490.56L1174.73 490.91L1176.22 491.25L1177.71 491.58L1179.2 491.9L1180.69 492.21L1182.18 492.51L1183.67 492.8L1185.16 493.09L1186.65 493.36L1188.14 493.63L1189.62 493.88L1191.11 494.13L1192.6 494.37L1194.09 494.61L1195.58 494.83L1197.07 495.05L1198.56 495.26L1200.05 495.46L1201.54 495.66L1203.03 495.85L1204.52 496.03L1206.01 496.2L1207.5 496.37L1208.99 496.53L1210.47 496.68L1211.96 496.82L1213.45 496.96L1214.94 497.1L1216.43 497.22L1217.92 497.34L1219.41 497.45L1220.9 497.56L1222.39 497.66L1223.88 497.76L1225.37 497.84L1226.86 497.92L1228.35 498L1229.84 498.07L1231.32 498.13L1232.81 498.19L1234.3 498.24L1235.79 498.29L1237.28 498.33L1238.77 498.36L1240.26 498.39L1241.75 498.41L1243.24 498.43L1244.73 498.44L1246.22 498.44L1247.71 498.44L1249.2 498.44L1250.69 498.42L1252.17 498.41L1253.66 498.39L1255.15 498.36L1256.64 498.32L1258.13 498.29L1259.62 498.24L1261.11 498.19L1262.6 498.14L1264.09 498.08L1265.58 498.01L1267.07 497.94L1268.56 497.87L1270.05 497.79L1271.54 497.7L1273.02 497.61L1274.51 497.52L1276 497.42L1277.49 497.31L1278.98 497.2L1280.47 497.09L1281.96 496.97L1283.45 496.84L1284.94 496.71L1286.43 496.57L1287.92 496.44L1289.41 496.29L1290.9 496.14L1292.39 495.99L1293.87 495.83L1295.36 495.66L1296.85 495.5L1298.34 495.32L1299.83 495.14L1301.32 494.96L1302.81 494.78L1304.3 494.58L1305.79 494.39L1307.28 494.19L1308.77 493.98L1310.26 493.77L1311.75 493.56L1313.23 493.34L1314.72 493.12L1316.21 492.89L1317.7 492.66L1319.19 492.42L1320.68 492.18L1322.17 491.93L1323.66 491.68L1325.15 491.43L1326.64 491.17L1328.13 490.91L1329.62 490.64L1331.11 490.37L1332.6 490.1L1334.08 489.82L1335.57 489.53L1337.06 489.24L1338.55 488.95L1340.04 488.65L1341.53 488.35L1343.02 488.05L1344.51 487.74L1346 487.43L1347.49 487.11L1348.98 486.79L1350.47 486.47L1351.96 486.14L1353.45 485.8L1354.93 485.47L1356.42 485.12L1357.91 484.78L1359.4 484.43L1360.89 484.08L1362.38 483.72L1363.87 483.36L1365.36 483L1366.85 482.63L1368.34 482.25L1369.83 481.88L1371.32 481.5L1372.81 481.11L1374.3 480.73L1375.78 480.34L1377.27 479.94L1378.76 479.54L1380.25 479.14L1381.74 478.73L1383.23 478.32L1384.72 477.91L1386.21 477.49L1387.7 477.07L1389.19 476.65L1390.68 476.22L1392.17 475.79L1393.66 475.35L1395.15 474.91L1396.63 474.47L1398.12 474.02L1399.61 473.57L1401.1 473.12L1402.59 472.67L1404.08 472.21L1405.57 471.74L1407.06 471.28L1408.55 470.8L1410.04 470.33L1411.53 469.85L1413.02 469.37L1414.51 468.89L1416 468.4L1417.48 467.91L1418.97 467.42L1420.46 466.92L1421.95 466.42L1423.44 465.92L1424.93 465.41L1426.42 464.9L1427.91 464.39L1429.4 463.87L1430.89 463.35L1432.38 462.83L1433.87 462.3L1435.36 461.77L1436.85 461.24L1438.33 460.7L1439.82 460.16L1441.31 459.62L1442.8 459.08L1444.29 458.53L1445.78 457.98L1447.27 457.43L1448.76 456.87L1450.25 456.31L1451.74 455.75L1453.23 455.18L1454.72 454.61L1456.21 454.04L1457.7 453.47L1459.18 452.89L1460.67 452.31L1462.16 451.72L1463.65 451.14L1465.14 450.55L1466.63 449.96L1468.12 449.36L1469.61 448.77L1471.1 448.17L1472.59 447.56L1474.08 446.96L1475.57 446.35L1477.06 445.74L1478.54 445.12L1480.03 444.51L1481.52 443.89L1483.01 443.27L1484.5 442.64L1485.99 442.01L1487.48 441.39L1488.97 440.75L1490.46 440.12L1491.95 439.48L1493.44 438.84L1494.93 438.2L1496.42 437.55L1497.91 436.91L1499.39 436.26L1500.88 435.6L1502.37 434.95L1503.86 434.29L1505.35 433.63L1506.84 432.97L1508.33 432.31L1509.82 431.64L1511.31 430.97L1512.8 430.3L1514.29 429.63L1515.78 428.95L1517.27 428.27L1518.76 427.59L1520.24 426.91L1521.73 426.22L1523.22 425.54L1524.71 424.85L1526.2 424.16L1527.69 423.46L1529.18 422.77L1530.67 422.07L1532.16 421.37L1533.65 420.67L1535.14 419.96L1536.63 419.26L1538.12 418.55L1539.61 417.84L1541.09 417.13L1542.58 416.41L1544.07 415.69L1545.56 414.98L1547.05 414.26L1548.54 413.53L1550.03 412.81L1551.52 412.08L1553.01 411.36L1554.5 410.63L1555.99 409.89L1557.48 409.16L1558.97 408.43L1560.46 407.69L1561.94 406.95L1563.43 406.21L1564.92 405.47L1566.41 404.72L1567.9 403.98L1569.39 403.23L1570.88 402.48L1572.37 401.73L1573.86 400.98L1575.35 400.22L1576.84 399.47L1578.33 398.71L1579.82 397.95L1581.31 397.19L1582.79 396.43L1584.28 395.66L1585.77 394.9L1587.26 394.13L1588.75 393.36L1590.24 392.59L1591.73 391.82L1593.22 391.05L1594.71 390.27L1596.2 389.5L1597.69 388.72L1599.18 387.94L1600.67 387.16L1602.16 386.38L1603.64 385.6L1605.13 384.82L1606.62 384.03L1608.11 383.25L1609.6 382.46L1611.09 381.67L1612.58 380.88L1614.07 380.09L1615.56 379.3L1617.05 378.51L1618.54 377.71L1620.03 376.91L1621.52 376.12L1623.01 375.32L1624.49 374.52L1625.98 373.72L1627.47 372.92L1628.96 372.12L1630.45 371.32L1631.94 370.51L1633.43 369.71L1634.92 368.9L1636.41 368.09L1637.9 367.29L1639.39 366.48L1640.88 365.67L1642.37 364.86L1643.85 364.04L1645.34 363.23L1646.83 362.42L1648.32 361.61L1649.81 360.79L1651.3 359.97L1652.79 359.16L1654.28 358.34L1655.77 357.52L1657.26 356.71L1658.75 355.89L1660.24 355.07L1661.73 354.25L1663.22 353.42L1664.7 352.6L1666.19 351.78L1667.68 350.96L1669.17 350.13L1670.66 349.31L1672.15 348.48L1673.64 347.66L1675.13 346.83L1676.62 346.01L1678.11 345.18L1679.6 344.35L1681.09 343.53L1682.58 342.7L1684.07 341.87L1685.55 341.04L1687.04 340.21L1688.53 339.38L1690.02 338.55L1691.51 337.72L1693 336.89L1694.49 336.06L1695.98 335.23L1697.47 334.4L1698.96 333.57L1700.45 332.74L1701.94 331.9L1703.43 331.07L1704.92 330.24L1706.4 329.41L1707.89 328.57L1709.38 327.74L1710.87 326.91L1712.36 326.07L1713.85 325.24L1715.34 324.41L1716.83 323.58L1718.32 322.74L1719.81 321.91L1721.3 321.08L1722.79 320.24L1724.28 319.41L1725.77 318.58L1727.25 317.74L1728.74 316.91L1730.23 316.08L1731.72 315.25L1733.21 314.41L1734.7 313.58L1736.19 312.75L1737.68 311.92L1739.17 311.09L1740.66 310.25L1742.15 309.42L1743.64 308.59L1745.13 307.76L1746.62 306.93L1748.1 306.1L1749.59 305.27L1751.08 304.44L1752.57 303.61L1754.06 302.78L1755.55 301.96L1757.04 301.13L1758.53 300.3L1760.02 299.47L1761.51 298.65L1763 297.82L1764.49 297L1765.98 296.17L1767.47 295.35L1768.95 294.52L1770.44 293.7L1771.93 292.88L1773.42 292.05L1774.91 291.23L1776.4 290.41L1777.89 289.59L1779.38 288.77L1780.87 287.95L1782.36 287.13L1783.85 286.32L1785.34 285.5L1786.83 284.68L1788.32 283.87L1789.8 283.05L1791.29 282.24L1792.78 281.42L1794.27 280.61L1795.76 279.8L1797.25 278.99L1798.74 278.18L1800.23 277.37L1801.72 276.56L1803.21 275.76L1804.7 274.95L1806.19 274.14L1807.68 273.34L1809.16 272.54L1810.65 271.74L1812.14 270.93L1813.63 270.13L1815.12 269.33L1816.61 268.54L1818.1 267.74L1819.59 266.94L1821.08 266.15L1822.57 265.35L1824.06 264.56L1825.55 263.77L1827.04 262.98L1828.53 262.19L1830.01 261.4L1831.5 260.61L1832.99 259.83L1834.48 259.04L1835.97 258.26L1837.46 257.48L1838.95 256.7L1840.44 255.92L1841.93 255.14L1843.42 254.36L1844.91 253.59L1846.4 252.82L1847.89 252.04L1849.38 251.27L1850.86 250.5L1852.35 249.73L1853.84 248.97L1855.33 248.2L1856.82 247.44L1858.31 246.67L1859.8 245.91L1861.29 245.15L1862.78 244.4L1864.27 243.64L1865.76 242.88L1867.25 242.13L1868.74 241.38L1870.23 240.63L1871.71 239.88L1873.2 239.13L1874.69 238.39L1876.18 237.64L1877.67 236.9L1879.16 236.16L1880.65 235.42L1882.14 234.68L1883.63 233.95L1885.12 233.22L1886.61 232.48L1888.1 231.75L1889.59 231.02L1891.08 230.3L1892.56 229.57L1894.05 228.85L1895.54 228.13L1897.03 227.41L1898.52 226.69L1900.01 225.98L1901.5 225.26L1902.99 224.55L1904.48 223.84L1905.97 223.13L1907.46 222.43L1908.95 221.72L1910.44 221.02L1911.93 220.32L1913.41 219.62L1914.9 218.93L1916.39 218.23L1917.88 217.54L1919.37 216.85L1920.86 216.16L1922.35 215.48L1923.84 214.79L1925.33 214.11L1926.82 213.43L1928.31 212.76L1929.8 212.08L1931.29 211.41L1932.78 210.74L1934.26 210.07L1935.75 209.4L1937.24 208.74L1938.73 208.07L1940.22 207.41L1941.71 206.76L1943.2 206.1L1944.69 205.45L1946.18 204.8L1947.67 204.15L1949.16 203.5L1950.65 202.86L1952.14 202.22L1953.63 201.58L1955.11 200.94L1956.6 200.3L1958.09 199.67L1959.58 199.04L1961.07 198.41L1962.56 197.79L1964.05 197.17L1965.54 196.55L1967.03 195.93L1968.52 195.31L1970.01 194.7L1971.5 194.09L1972.99 193.48L1974.47 192.88L1975.96 192.27L1977.45 191.67L1978.94 191.07L1980.43 190.48L1981.92 189.89L1983.41 189.3L1984.9 188.71L1986.39 188.12L1987.88 187.54L1989.37 186.96L1990.86 186.38L1992.35 185.81L1993.84 185.24L1995.32 184.67L1996.81 184.1L1998.3 183.54L1999.79 182.98L2001.28 182.42L2002.77 181.86L2004.26 181.31L2005.75 180.76L2007.24 180.21L2008.73 179.67L2010.22 179.12L2011.71 178.58L2013.2 178.05L2014.69 177.51L2016.17 176.98L2017.66 176.45L2019.15 175.93L2020.64 175.41L2022.13 174.89L2023.62 174.37L2025.11 173.86L2026.6 173.34L2028.09 172.84L2029.58 172.33" stroke="#C8912E" stroke-width="4.8" fill="none" stroke-linejoin="round"/>
</g>
<g>
<path d="M143.7 1242.4V1249M135.2 1242.4h17M135.2 1249h17M170.6 1237.1V1241.7M162.1 1237.1h17M162.1 1241.7h17M224.6 1198.6V1203.2M216.1 1198.6h17M216.1 1203.2h17M234.8 1179.5V1209.3M226.3 1179.5h17M226.3 1209.3h17M256.2 1148.4V1169.2M247.7 1148.4h17M247.7 1169.2h17M278.8 1132.3V1136.3M270.3 1132.3h17M270.3 1136.3h17M299.6 1081.1V1089.7M291.1 1081.1h17M291.1 1089.7h17M309.6 1072.8V1078.8M301.1 1072.8h17M301.1 1078.8h17M312.5 1072V1080M304 1072h17M304 1080h17M326.5 1033.3V1037.7M318 1033.3h17M318 1037.7h17" stroke="#5A68AE" stroke-width="1.7" fill="none"/>
<g fill="#5A68AE"><circle cx="143.7" cy="1245.7" r="6.2"/><circle cx="170.6" cy="1239.4" r="6.2"/><circle cx="224.6" cy="1200.9" r="6.2"/><circle cx="234.8" cy="1194.4" r="6.2"/><circle cx="256.2" cy="1158.8" r="6.2"/><circle cx="278.8" cy="1134.3" r="6.2"/><circle cx="299.6" cy="1085.4" r="6.2"/><circle cx="309.6" cy="1075.8" r="6.2"/><circle cx="312.5" cy="1076" r="6.2"/><circle cx="326.5" cy="1035.5" r="6.2"/></g>
<path d="M330.7 1060.4V1066.4M322.2 1060.4h17M322.2 1066.4h17M331.7 1055.6V1061.6M323.2 1055.6h17M323.2 1061.6h17M338.4 1046.9V1052.9M329.9 1046.9h17M329.9 1052.9h17M347.6 1025.2V1031.2M339.1 1025.2h17M339.1 1031.2h17M351 1019.9V1025.9M342.5 1019.9h17M342.5 1025.9h17M346.2 1026.1V1037.1M337.7 1026.1h17M337.7 1037.1h17M352.4 1014.7V1023.7M343.9 1014.7h17M343.9 1023.7h17M355.8 1003.8V1009.8M347.3 1003.8h17M347.3 1009.8h17M363.4 986.3V1001.1M354.9 986.3h17M354.9 1001.1h17M369.6 972.7V981.7M361.1 972.7h17M361.1 981.7h17M387.5 948V958M379 948h17M379 958h17M405.8 905.5V921.3M397.3 905.5h17M397.3 921.3h17M438.2 893.5V917.5M429.7 893.5h17M429.7 917.5h17M454.1 887.2V893.2M445.6 887.2h17M445.6 893.2h17M459.3 852V921.6M450.8 852h17M450.8 921.6h17M470.7 874.1V878.5M462.2 874.1h17M462.2 878.5h17M481.6 909.7V914.7M473.1 909.7h17M473.1 914.7h17M486.3 871.2V898.6M477.8 871.2h17M477.8 898.6h17M512.6 880.9V897.5M504.1 880.9h17M504.1 897.5h17M597.8 969.8V993.2M589.3 969.8h17M589.3 993.2h17M641.2 1036.8V1040.8M632.7 1036.8h17M632.7 1040.8h17M683 1091.4V1109.4M674.5 1091.4h17M674.5 1109.4h17M757.7 1189.9V1213.1M749.2 1189.9h17M749.2 1213.1h17M801.8 1249.2V1253.2M793.3 1249.2h17M793.3 1253.2h17M896.6 1250.1V1299.9M888.1 1250.1h17M888.1 1299.9h17M939.1 1272.1V1302.9M930.6 1272.1h17M930.6 1302.9h17" stroke="#C8912E" stroke-width="1.7" fill="none"/>
<g fill="#C8912E"><circle cx="330.7" cy="1063.4" r="6.2"/><circle cx="331.7" cy="1058.6" r="6.2"/><circle cx="338.4" cy="1049.9" r="6.2"/><circle cx="347.6" cy="1028.2" r="6.2"/><circle cx="351" cy="1022.9" r="6.2"/><circle cx="346.2" cy="1031.6" r="6.2"/><circle cx="352.4" cy="1019.2" r="6.2"/><circle cx="355.8" cy="1006.8" r="6.2"/><circle cx="363.4" cy="993.7" r="6.2"/><circle cx="369.6" cy="977.2" r="6.2"/><circle cx="387.5" cy="953" r="6.2"/><circle cx="405.8" cy="913.4" r="6.2"/><circle cx="438.2" cy="905.5" r="6.2"/><circle cx="454.1" cy="890.2" r="6.2"/><circle cx="459.3" cy="886.8" r="6.2"/><circle cx="470.7" cy="876.3" r="6.2"/><circle cx="481.6" cy="912.2" r="6.2"/><circle cx="486.3" cy="884.9" r="6.2"/><circle cx="512.6" cy="889.2" r="6.2"/><circle cx="597.8" cy="981.5" r="6.2"/><circle cx="641.2" cy="1038.8" r="6.2"/><circle cx="683" cy="1100.4" r="6.2"/><circle cx="757.7" cy="1201.5" r="6.2"/><circle cx="801.8" cy="1251.2" r="6.2"/><circle cx="896.6" cy="1275" r="6.2"/><circle cx="939.1" cy="1287.5" r="6.2"/></g>
<path d="M122.2 1248.89L123.11 1248.83L124.02 1248.76L124.93 1248.69L125.83 1248.61L126.74 1248.54L127.65 1248.46L128.56 1248.37L129.47 1248.29L130.38 1248.2L131.29 1248.1L132.19 1248.01L133.1 1247.91L134.01 1247.8L134.92 1247.69L135.83 1247.58L136.74 1247.46L137.65 1247.34L138.55 1247.21L139.46 1247.08L140.37 1246.94L141.28 1246.8L142.19 1246.65L143.1 1246.5L144.01 1246.34L144.91 1246.17L145.82 1246.01L146.73 1245.83L147.64 1245.65L148.55 1245.46L149.46 1245.27L150.37 1245.07L151.27 1244.86L152.18 1244.65L153.09 1244.43L154 1244.2L154.91 1243.96L155.82 1243.72L156.73 1243.47L157.63 1243.21L158.54 1242.95L159.45 1242.68L160.36 1242.39L161.27 1242.1L162.18 1241.8L163.09 1241.5L163.99 1241.18L164.9 1240.86L165.81 1240.53L166.72 1240.18L167.63 1239.84L168.54 1239.48L169.45 1239.11L170.35 1238.74L171.26 1238.36L172.17 1237.97L173.08 1237.57L173.99 1237.16L174.9 1236.75L175.81 1236.32L176.71 1235.89L177.62 1235.45L178.53 1235L179.44 1234.55L180.35 1234.08L181.26 1233.61L182.17 1233.13L183.07 1232.64L183.98 1232.14L184.89 1231.64L185.8 1231.12L186.71 1230.6L187.62 1230.07L188.53 1229.54L189.43 1228.99L190.34 1228.44L191.25 1227.88L192.16 1227.31L193.07 1226.73L193.98 1226.14L194.89 1225.55L195.79 1224.95L196.7 1224.34L197.61 1223.72L198.52 1223.1L199.43 1222.47L200.34 1221.83L201.25 1221.18L202.15 1220.53L203.06 1219.87L203.97 1219.2L204.88 1218.52L205.79 1217.83L206.7 1217.14L207.61 1216.44L208.51 1215.73L209.42 1215.02L210.33 1214.3L211.24 1213.57L212.15 1212.84L213.06 1212.09L213.97 1211.34L214.87 1210.59L215.78 1209.82L216.69 1209.05L217.6 1208.28L218.51 1207.49L219.42 1206.7L220.33 1205.9L221.23 1205.1L222.14 1204.29L223.05 1203.48L223.96 1202.65L224.87 1201.82L225.78 1200.99L226.68 1200.15L227.59 1199.3L228.5 1198.44L229.41 1197.58L230.32 1196.71L231.23 1195.83L232.14 1194.95L233.04 1194.05L233.95 1193.15L234.86 1192.24L235.77 1191.32L236.68 1190.4L237.59 1189.46L238.5 1188.51L239.4 1187.56L240.31 1186.59L241.22 1185.62L242.13 1184.63L243.04 1183.63L243.95 1182.63L244.86 1181.61L245.76 1180.58L246.67 1179.54L247.58 1178.49L248.49 1177.42L249.4 1176.34L250.31 1175.26L251.22 1174.15L252.12 1173.04L253.03 1171.91L253.94 1170.77L254.85 1169.62L255.76 1168.45L256.67 1167.26L257.58 1166.07L258.48 1164.86L259.39 1163.63L260.3 1162.39L261.21 1161.14L262.12 1159.87L263.03 1158.58L263.94 1157.29L264.84 1155.98L265.75 1154.65L266.66 1153.31L267.57 1151.96L268.48 1150.59L269.39 1149.2L270.3 1147.81L271.2 1146.4L272.11 1144.97L273.02 1143.53L273.93 1142.07L274.84 1140.61L275.75 1139.12L276.66 1137.63L277.56 1136.11L278.47 1134.59L279.38 1133.05L280.29 1131.5L281.2 1129.93L282.11 1128.35L283.02 1126.75L283.92 1125.14L284.83 1123.52L285.74 1121.88L286.65 1120.23L287.56 1118.57L288.47 1116.89L289.38 1115.2L290.28 1113.49L291.19 1111.78L292.1 1110.05L293.01 1108.3L293.92 1106.55L294.83 1104.78L295.74 1103L296.64 1101.21L297.55 1099.4L298.46 1097.59L299.37 1095.76L300.28 1093.92L301.19 1092.07L302.1 1090.21L303 1088.34L303.91 1086.46L304.82 1084.57L305.73 1082.67L306.64 1080.77L307.55 1078.85L308.46 1076.92L309.36 1074.98L310.27 1073.04L311.18 1071.09L312.09 1069.12L313 1067.16L313.91 1065.18L314.82 1063.2L315.72 1061.21L316.63 1059.21L317.54 1057.21L318.45 1055.2L319.36 1053.18L320.27 1051.16L321.18 1049.14L322.08 1047.11L322.99 1045.07L323.9 1043.03L324.81 1040.99L325.72 1038.95L326.63 1036.9L327.54 1034.85L328.44 1032.8L329.35 1030.75L330.26 1028.69L330.3 1028.61" stroke="#5A68AE" stroke-width="5.3" fill="none" stroke-linejoin="round"/>
<path d="M330.3 1028.61L331.17 1026.64L332.08 1024.59L332.99 1022.54L333.9 1020.48L334.8 1018.43L335.71 1016.39L336.62 1014.34L337.53 1012.3L338.44 1010.26L339.35 1008.22L340.26 1006.19L341.16 1004.16L342.07 1002.14L342.98 1000.12L343.89 998.11L344.8 996.11L345.71 994.11L346.62 992.12L347.52 990.13L348.43 988.16L349.34 986.19L350.25 984.23L351.16 982.28L352.07 980.34L352.98 978.41L353.88 976.49L354.79 974.58L355.7 972.68L356.61 970.79L357.52 968.92L358.43 967.05L359.34 965.2L360.24 963.36L361.15 961.53L362.06 959.72L362.97 957.92L363.88 956.14L364.79 954.36L365.7 952.61L366.6 950.86L367.51 949.14L368.42 947.42L369.33 945.73L370.24 944.05L371.15 942.38L372.06 940.73L372.96 939.1L373.87 937.49L374.78 935.89L375.69 934.31L376.6 932.74L377.51 931.2L378.42 929.67L379.32 928.16L380.23 926.67L381.14 925.2L382.05 923.74L382.96 922.31L383.87 920.89L384.78 919.49L385.68 918.12L386.59 916.76L387.5 915.42L388.41 914.1L389.32 912.8L390.23 911.51L391.14 910.25L392.04 909.01L392.95 907.78L393.86 906.57L394.77 905.39L395.68 904.22L396.59 903.07L397.5 901.94L398.4 900.83L399.31 899.73L400.22 898.66L401.13 897.6L402.04 896.56L402.95 895.54L403.86 894.54L404.76 893.56L405.67 892.59L406.58 891.65L407.49 890.72L408.4 889.81L409.31 888.92L410.22 888.04L411.12 887.19L412.03 886.35L412.94 885.53L413.85 884.73L414.76 883.94L415.67 883.18L416.58 882.43L417.48 881.7L418.39 880.98L419.3 880.28L420.21 879.6L421.12 878.94L422.03 878.29L422.94 877.66L423.84 877.04L424.75 876.44L425.66 875.85L426.57 875.28L427.48 874.73L428.39 874.19L429.29 873.66L430.2 873.15L431.11 872.66L432.02 872.18L432.93 871.71L433.84 871.25L434.75 870.81L435.65 870.38L436.56 869.97L437.47 869.57L438.38 869.18L439.29 868.81L440.2 868.44L441.11 868.09L442.01 867.75L442.92 867.43L443.83 867.11L444.74 866.81L445.65 866.52L446.56 866.24L447.47 865.98L448.37 865.72L449.28 865.48L450.19 865.24L451.1 865.02L452.01 864.81L452.92 864.61L453.83 864.42L454.73 864.24L455.64 864.08L456.55 863.92L457.46 863.78L458.37 863.64L459.28 863.52L460.19 863.41L461.09 863.31L462 863.22L462.91 863.14L463.82 863.08L464.73 863.02L465.64 862.98L466.55 862.94L467.45 862.92L468.36 862.91L469.27 862.91L470.18 862.92L471.09 862.95L472 862.98L472.91 863.03L473.81 863.08L474.72 863.15L475.63 863.23L476.54 863.32L477.45 863.42L478.36 863.54L479.27 863.66L480.17 863.8L481.08 863.95L481.99 864.11L482.9 864.28L483.81 864.46L484.72 864.66L485.63 864.87L486.53 865.08L487.44 865.31L488.35 865.55L489.26 865.8L490.17 866.06L491.08 866.34L491.99 866.62L492.89 866.92L493.8 867.23L494.71 867.54L495.62 867.87L496.53 868.21L497.44 868.56L498.35 868.92L499.25 869.3L500.16 869.68L501.07 870.07L501.98 870.48L502.89 870.9L503.8 871.32L504.71 871.76L505.61 872.21L506.52 872.67L507.43 873.14L508.34 873.62L509.25 874.11L510.16 874.61L511.07 875.13L511.97 875.65L512.88 876.18L513.79 876.73L514.7 877.28L515.61 877.85L516.52 878.43L517.43 879.01L518.33 879.61L519.24 880.21L520.15 880.82L521.06 881.45L521.97 882.08L522.88 882.72L523.79 883.37L524.69 884.03L525.6 884.7L526.51 885.38L527.42 886.06L528.33 886.75L529.24 887.45L530.15 888.16L531.05 888.88L531.96 889.6L532.87 890.33L533.78 891.07L534.69 891.81L535.6 892.56L536.51 893.32L537.41 894.08L538.32 894.85L539.23 895.63L540.14 896.41L541.05 897.19L541.96 897.98L542.87 898.78L543.77 899.58L544.68 900.39L545.59 901.2L546.5 902.02L547.41 902.84L548.32 903.66L549.23 904.49L550.13 905.33L551.04 906.17L551.95 907.02L552.86 907.87L553.77 908.73L554.68 909.59L555.59 910.46L556.49 911.34L557.4 912.22L558.31 913.1L559.22 914L560.13 914.89L561.04 915.8L561.95 916.71L562.85 917.63L563.76 918.55L564.67 919.48L565.58 920.42L566.49 921.36L567.4 922.32L568.31 923.27L569.21 924.24L570.12 925.21L571.03 926.19L571.94 927.18L572.85 928.17L573.76 929.17L574.67 930.18L575.57 931.2L576.48 932.22L577.39 933.25L578.3 934.29L579.21 935.34L580.12 936.4L581.03 937.46L581.93 938.53L582.84 939.6L583.75 940.69L584.66 941.78L585.57 942.88L586.48 943.98L587.39 945.09L588.29 946.21L589.2 947.34L590.11 948.47L591.02 949.61L591.93 950.75L592.84 951.9L593.75 953.06L594.65 954.22L595.56 955.39L596.47 956.57L597.38 957.75L598.29 958.93L599.2 960.13L600.11 961.32L601.01 962.53L601.92 963.73L602.83 964.95L603.74 966.17L604.65 967.39L605.56 968.62L606.47 969.85L607.37 971.09L608.28 972.33L609.19 973.58L610.1 974.83L611.01 976.08L611.92 977.34L612.83 978.61L613.73 979.87L614.64 981.15L615.55 982.42L616.46 983.7L617.37 984.99L618.28 986.28L619.19 987.57L620.09 988.86L621 990.16L621.91 991.47L622.82 992.78L623.73 994.09L624.64 995.4L625.55 996.72L626.45 998.05L627.36 999.37L628.27 1000.7L629.18 1002.04L630.09 1003.37L631 1004.71L631.91 1006.06L632.81 1007.4L633.72 1008.75L634.63 1010.11L635.54 1011.46L636.45 1012.82L637.36 1014.18L638.26 1015.55L639.17 1016.92L640.08 1018.29L640.99 1019.66L641.9 1021.04L642.81 1022.42L643.72 1023.8L644.62 1025.18L645.53 1026.57L646.44 1027.96L647.35 1029.36L648.26 1030.75L649.17 1032.15L650.08 1033.55L650.98 1034.96L651.89 1036.37L652.8 1037.78L653.71 1039.19L654.62 1040.61L655.53 1042.03L656.44 1043.45L657.34 1044.88L658.25 1046.3L659.16 1047.74L660.07 1049.17L660.98 1050.61L661.89 1052.05L662.8 1053.49L663.7 1054.93L664.61 1056.38L665.52 1057.83L666.43 1059.29L667.34 1060.74L668.25 1062.2L669.16 1063.67L670.06 1065.13L670.97 1066.6L671.88 1068.07L672.79 1069.54L673.7 1071.02L674.61 1072.5L675.52 1073.98L676.42 1075.46L677.33 1076.95L678.24 1078.43L679.15 1079.92L680.06 1081.41L680.97 1082.91L681.88 1084.4L682.78 1085.9L683.69 1087.39L684.6 1088.89L685.51 1090.39L686.42 1091.89L687.33 1093.39L688.24 1094.89L689.14 1096.4L690.05 1097.9L690.96 1099.4L691.87 1100.9L692.78 1102.41L693.69 1103.91L694.6 1105.41L695.5 1106.91L696.41 1108.41L697.32 1109.91L698.23 1111.41L699.14 1112.91L700.05 1114.41L700.96 1115.91L701.86 1117.4L702.77 1118.9L703.68 1120.39L704.59 1121.88L705.5 1123.37L706.41 1124.86L707.32 1126.34L708.22 1127.83L709.13 1129.31L710.04 1130.79L710.95 1132.27L711.86 1133.74L712.77 1135.21L713.68 1136.69L714.58 1138.15L715.49 1139.62L716.4 1141.08L717.31 1142.54L718.22 1144L719.13 1145.46L720.04 1146.91L720.94 1148.36L721.85 1149.8L722.76 1151.25L723.67 1152.69L724.58 1154.13L725.49 1155.56L726.4 1156.99L727.3 1158.42L728.21 1159.84L729.12 1161.26L730.03 1162.68L730.94 1164.09L731.85 1165.5L732.76 1166.9L733.66 1168.3L734.57 1169.7L735.48 1171.09L736.39 1172.48L737.3 1173.87L738.21 1175.25L739.12 1176.62L740.02 1177.99L740.93 1179.35L741.84 1180.71L742.75 1182.07L743.66 1183.41L744.57 1184.75L745.48 1186.09L746.38 1187.42L747.29 1188.74L748.2 1190.05L749.11 1191.36L750.02 1192.66L750.93 1193.95L751.84 1195.24L752.74 1196.52L753.65 1197.79L754.56 1199.05L755.47 1200.3L756.38 1201.54L757.29 1202.78L758.2 1204.01L759.1 1205.22L760.01 1206.43L760.92 1207.63L761.83 1208.82L762.74 1210L763.65 1211.17L764.56 1212.33L765.46 1213.48L766.37 1214.62L767.28 1215.75L768.19 1216.87L769.1 1217.98L770.01 1219.07L770.92 1220.16L771.82 1221.24L772.73 1222.31L773.64 1223.36L774.55 1224.41L775.46 1225.44L776.37 1226.47L777.28 1227.48L778.18 1228.49L779.09 1229.48L780 1230.46L780.91 1231.44L781.82 1232.4L782.73 1233.35L783.64 1234.3L784.54 1235.23L785.45 1236.15L786.36 1237.06L787.27 1237.97L788.18 1238.86L789.09 1239.74L790 1240.61L790.9 1241.47L791.81 1242.32L792.72 1243.16L793.63 1244L794.54 1244.82L795.45 1245.63L796.36 1246.43L797.26 1247.22L798.17 1248L799.08 1248.77L799.99 1249.53L800.9 1250.28L801.81 1251.02L802.72 1251.74L803.62 1252.46L804.53 1253.17L805.44 1253.87L806.35 1254.56L807.26 1255.23L808.17 1255.9L809.08 1256.55L809.98 1257.19L810.89 1257.82L811.8 1258.44L812.71 1259.05L813.62 1259.65L814.53 1260.24L815.44 1260.81L816.34 1261.38L817.25 1261.93L818.16 1262.47L819.07 1263L819.98 1263.52L820.89 1264.03L821.8 1264.52L822.7 1265.01L823.61 1265.48L824.52 1265.94L825.43 1266.39L826.34 1266.82L827.25 1267.25L828.16 1267.67L829.06 1268.07L829.97 1268.46L830.88 1268.84L831.79 1269.21L832.7 1269.57L833.61 1269.91L834.52 1270.25L835.42 1270.57L836.33 1270.88L837.24 1271.18L838.15 1271.46L839.06 1271.74L839.97 1272L840.87 1272.25L841.78 1272.48L842.69 1272.71L843.6 1272.92L844.51 1273.12L845.42 1273.31L846.33 1273.48L847.23 1273.65L848.14 1273.8L849.05 1273.95L849.96 1274.08L850.87 1274.21L851.78 1274.32L852.69 1274.42L853.59 1274.52L854.5 1274.61L855.41 1274.69L856.32 1274.76L857.23 1274.82L858.14 1274.88L859.05 1274.93L859.95 1274.98L860.86 1275.01L861.77 1275.05L862.68 1275.07L863.59 1275.09L864.5 1275.11L865.41 1275.12L866.31 1275.13L867.22 1275.13L868.13 1275.13L869.04 1275.12L869.95 1275.11L870.86 1275.1L871.77 1275.08L872.67 1275.06L873.58 1275.04L874.49 1275.01L875.4 1274.98L876.31 1274.95L877.22 1274.91L878.13 1274.87L879.03 1274.83L879.94 1274.79L880.85 1274.75L881.76 1274.7L882.67 1274.66L883.58 1274.61L884.49 1274.56L885.39 1274.51L886.3 1274.46L887.21 1274.41L888.12 1274.36L889.03 1274.32L889.94 1274.27L890.85 1274.23L891.75 1274.19L892.66 1274.15L893.57 1274.12L894.48 1274.09L895.39 1274.07L896.3 1274.05L897.21 1274.03L898.11 1274.02L899.02 1274.02L899.93 1274.02L900.84 1274.03L901.75 1274.04L902.66 1274.06L903.57 1274.08L904.47 1274.1L905.38 1274.13L906.29 1274.16L907.2 1274.19L908.11 1274.23L909.02 1274.27L909.93 1274.31L910.83 1274.36L911.74 1274.4L912.65 1274.45L913.56 1274.5L914.47 1274.54L915.38 1274.59L916.29 1274.64L917.19 1274.69L918.1 1274.74L919.01 1274.79L919.92 1274.84L920.83 1274.89L921.74 1274.94L922.65 1274.99L923.55 1275.03L924.46 1275.07L925.37 1275.12L926.28 1275.16L927.19 1275.2L928.1 1275.23L929.01 1275.27L929.91 1275.3L930.82 1275.34L931.73 1275.37L932.64 1275.39L933.55 1275.42L934.46 1275.44L935.37 1275.47L936.27 1275.49L937.18 1275.51L938.09 1275.52L939 1275.54" stroke="#5A68AE" stroke-width="5.3" fill="none" stroke-dasharray="8.3 8.77"/>
<path d="M124.9 1259.28L125.81 1259.21L126.71 1259.15L127.62 1259.08L128.52 1259.01L129.43 1258.93L130.34 1258.85L131.24 1258.77L132.15 1258.69L133.06 1258.6L133.96 1258.51L134.87 1258.42L135.77 1258.32L136.68 1258.22L137.59 1258.11L138.49 1258L139.4 1257.89L140.31 1257.77L141.21 1257.65L142.12 1257.52L143.02 1257.39L143.93 1257.25L144.84 1257.11L145.74 1256.96L146.65 1256.81L147.56 1256.65L148.46 1256.49L149.37 1256.32L150.27 1256.15L151.18 1255.97L152.09 1255.79L152.99 1255.6L153.9 1255.4L154.81 1255.2L155.71 1254.99L156.62 1254.77L157.52 1254.54L158.43 1254.31L159.34 1254.08L160.24 1253.83L161.15 1253.58L162.06 1253.32L162.96 1253.05L163.87 1252.78L164.77 1252.5L165.68 1252.21L166.59 1251.91L167.49 1251.61L168.4 1251.29L169.31 1250.97L170.21 1250.65L171.12 1250.31L172.02 1249.97L172.93 1249.62L173.84 1249.27L174.74 1248.9L175.65 1248.53L176.56 1248.16L177.46 1247.77L178.37 1247.38L179.27 1246.98L180.18 1246.57L181.09 1246.15L181.99 1245.73L182.9 1245.3L183.8 1244.86L184.71 1244.42L185.62 1243.96L186.52 1243.5L187.43 1243.04L188.34 1242.56L189.24 1242.08L190.15 1241.59L191.05 1241.1L191.96 1240.59L192.87 1240.08L193.77 1239.56L194.68 1239.04L195.59 1238.51L196.49 1237.97L197.4 1237.42L198.3 1236.87L199.21 1236.3L200.12 1235.74L201.02 1235.16L201.93 1234.58L202.84 1233.99L203.74 1233.39L204.65 1232.79L205.55 1232.18L206.46 1231.56L207.37 1230.94L208.27 1230.31L209.18 1229.67L210.09 1229.02L210.99 1228.37L211.9 1227.72L212.8 1227.05L213.71 1226.38L214.62 1225.7L215.52 1225.02L216.43 1224.33L217.34 1223.63L218.24 1222.93L219.15 1222.22L220.05 1221.5L220.96 1220.78L221.87 1220.05L222.77 1219.32L223.68 1218.58L224.59 1217.83L225.49 1217.08L226.4 1216.33L227.3 1215.56L228.21 1214.79L229.12 1214.01L230.02 1213.23L230.93 1212.44L231.84 1211.64L232.74 1210.83L233.65 1210.02L234.55 1209.19L235.46 1208.36L236.37 1207.53L237.27 1206.68L238.18 1205.82L239.08 1204.96L239.99 1204.08L240.9 1203.2L241.8 1202.31L242.71 1201.41L243.62 1200.49L244.52 1199.57L245.43 1198.64L246.33 1197.7L247.24 1196.74L248.15 1195.78L249.05 1194.8L249.96 1193.81L250.87 1192.81L251.77 1191.8L252.68 1190.77L253.58 1189.74L254.49 1188.69L255.4 1187.62L256.3 1186.55L257.21 1185.46L258.12 1184.35L259.02 1183.24L259.93 1182.11L260.83 1180.96L261.74 1179.81L262.65 1178.64L263.55 1177.45L264.46 1176.26L265.37 1175.05L266.27 1173.82L267.18 1172.58L268.08 1171.33L268.99 1170.07L269.9 1168.79L270.8 1167.5L271.71 1166.19L272.62 1164.87L273.52 1163.54L274.43 1162.19L275.33 1160.83L276.24 1159.46L277.15 1158.07L278.05 1156.67L278.96 1155.26L279.87 1153.83L280.77 1152.39L281.68 1150.93L282.58 1149.46L283.49 1147.98L284.4 1146.49L285.3 1144.98L286.21 1143.46L287.12 1141.93L288.02 1140.38L288.93 1138.82L289.83 1137.24L290.74 1135.66L291.65 1134.06L292.55 1132.45L293.46 1130.83L294.36 1129.19L295.27 1127.54L296.18 1125.88L297.08 1124.21L297.99 1122.53L298.9 1120.84L299.8 1119.13L300.71 1117.42L301.61 1115.69L302.52 1113.96L303.43 1112.21L304.33 1110.45L305.24 1108.69L306.15 1106.91L307.05 1105.13L307.96 1103.33L308.86 1101.53L309.77 1099.72L310.68 1097.9L311.58 1096.07L312.49 1094.23L313.4 1092.39L314.3 1090.54L315.21 1088.68L316.11 1086.81L317.02 1084.94L317.93 1083.06L318.83 1081.18L319.74 1079.28L320.65 1077.39L321.55 1075.48L322.46 1073.58L323.36 1071.67L324.27 1069.75L325.18 1067.83L326.08 1065.91L326.99 1063.98L327.9 1062.05L328.8 1060.12L329.71 1058.19L330.3 1056.93" stroke="#C8912E" stroke-width="5.3" fill="none" stroke-dasharray="8.3 8.77"/>
<path d="M330.3 1056.93L330.61 1056.26L331.52 1054.32L332.43 1052.39L333.33 1050.45L334.24 1048.52L335.15 1046.58L336.05 1044.65L336.96 1042.72L337.86 1040.79L338.77 1038.87L339.68 1036.94L340.58 1035.03L341.49 1033.11L342.39 1031.2L343.3 1029.29L344.21 1027.39L345.11 1025.49L346.02 1023.6L346.93 1021.71L347.83 1019.83L348.74 1017.96L349.64 1016.1L350.55 1014.24L351.46 1012.39L352.36 1010.55L353.27 1008.72L354.18 1006.9L355.08 1005.08L355.99 1003.28L356.89 1001.48L357.8 999.7L358.71 997.93L359.61 996.17L360.52 994.42L361.43 992.68L362.33 990.95L363.24 989.24L364.14 987.54L365.05 985.85L365.96 984.17L366.86 982.51L367.77 980.86L368.68 979.23L369.58 977.61L370.49 976L371.39 974.41L372.3 972.84L373.21 971.28L374.11 969.73L375.02 968.2L375.93 966.69L376.83 965.2L377.74 963.72L378.64 962.25L379.55 960.81L380.46 959.38L381.36 957.96L382.27 956.57L383.18 955.19L384.08 953.83L384.99 952.49L385.89 951.17L386.8 949.86L387.71 948.58L388.61 947.31L389.52 946.06L390.43 944.82L391.33 943.61L392.24 942.41L393.14 941.23L394.05 940.07L394.96 938.92L395.86 937.79L396.77 936.68L397.67 935.59L398.58 934.52L399.49 933.46L400.39 932.43L401.3 931.41L402.21 930.4L403.11 929.42L404.02 928.45L404.92 927.5L405.83 926.56L406.74 925.65L407.64 924.75L408.55 923.87L409.46 923L410.36 922.16L411.27 921.33L412.17 920.52L413.08 919.72L413.99 918.94L414.89 918.18L415.8 917.43L416.71 916.71L417.61 916L418.52 915.3L419.42 914.62L420.33 913.96L421.24 913.31L422.14 912.68L423.05 912.07L423.96 911.47L424.86 910.88L425.77 910.31L426.67 909.76L427.58 909.22L428.49 908.69L429.39 908.18L430.3 907.68L431.21 907.2L432.11 906.73L433.02 906.27L433.92 905.83L434.83 905.4L435.74 904.98L436.64 904.58L437.55 904.18L438.46 903.8L439.36 903.44L440.27 903.08L441.17 902.74L442.08 902.41L442.99 902.09L443.89 901.78L444.8 901.49L445.71 901.2L446.61 900.93L447.52 900.67L448.42 900.42L449.33 900.18L450.24 899.95L451.14 899.73L452.05 899.53L452.95 899.33L453.86 899.15L454.77 898.97L455.67 898.81L456.58 898.66L457.49 898.51L458.39 898.38L459.3 898.26L460.2 898.15L461.11 898.06L462.02 897.97L462.92 897.89L463.83 897.83L464.74 897.77L465.64 897.73L466.55 897.7L467.45 897.68L468.36 897.67L469.27 897.67L470.17 897.68L471.08 897.7L471.99 897.73L472.89 897.78L473.8 897.83L474.7 897.9L475.61 897.98L476.52 898.07L477.42 898.17L478.33 898.28L479.24 898.4L480.14 898.54L481.05 898.68L481.95 898.84L482.86 899.01L483.77 899.19L484.67 899.38L485.58 899.58L486.49 899.79L487.39 900.02L488.3 900.25L489.2 900.5L490.11 900.75L491.02 901.02L491.92 901.3L492.83 901.59L493.74 901.89L494.64 902.2L495.55 902.52L496.45 902.85L497.36 903.2L498.27 903.55L499.17 903.91L500.08 904.29L500.99 904.67L501.89 905.07L502.8 905.48L503.7 905.89L504.61 906.32L505.52 906.76L506.42 907.21L507.33 907.67L508.23 908.14L509.14 908.62L510.05 909.11L510.95 909.61L511.86 910.12L512.77 910.64L513.67 911.17L514.58 911.71L515.48 912.26L516.39 912.82L517.3 913.39L518.2 913.97L519.11 914.56L520.02 915.15L520.92 915.76L521.83 916.38L522.73 917L523.64 917.63L524.55 918.27L525.45 918.92L526.36 919.58L527.27 920.24L528.17 920.92L529.08 921.6L529.98 922.28L530.89 922.98L531.8 923.68L532.7 924.39L533.61 925.1L534.52 925.82L535.42 926.55L536.33 927.29L537.23 928.03L538.14 928.77L539.05 929.52L539.95 930.28L540.86 931.04L541.77 931.81L542.67 932.58L543.58 933.35L544.48 934.13L545.39 934.92L546.3 935.71L547.2 936.5L548.11 937.3L549.02 938.1L549.92 938.91L550.83 939.72L551.73 940.54L552.64 941.36L553.55 942.19L554.45 943.02L555.36 943.86L556.27 944.7L557.17 945.55L558.08 946.41L558.98 947.27L559.89 948.13L560.8 949L561.7 949.88L562.61 950.76L563.51 951.65L564.42 952.55L565.33 953.45L566.23 954.36L567.14 955.27L568.05 956.19L568.95 957.12L569.86 958.05L570.76 958.99L571.67 959.94L572.58 960.89L573.48 961.85L574.39 962.82L575.3 963.79L576.2 964.77L577.11 965.76L578.01 966.76L578.92 967.76L579.83 968.77L580.73 969.79L581.64 970.81L582.55 971.84L583.45 972.88L584.36 973.92L585.26 974.97L586.17 976.02L587.08 977.09L587.98 978.16L588.89 979.23L589.8 980.31L590.7 981.4L591.61 982.49L592.51 983.59L593.42 984.69L594.33 985.8L595.23 986.92L596.14 988.04L597.05 989.16L597.95 990.29L598.86 991.43L599.76 992.57L600.67 993.71L601.58 994.86L602.48 996.02L603.39 997.18L604.3 998.34L605.2 999.51L606.11 1000.68L607.01 1001.86L607.92 1003.04L608.83 1004.22L609.73 1005.41L610.64 1006.61L611.55 1007.8L612.45 1009L613.36 1010.21L614.26 1011.41L615.17 1012.62L616.08 1013.84L616.98 1015.06L617.89 1016.28L618.79 1017.5L619.7 1018.73L620.61 1019.96L621.51 1021.2L622.42 1022.44L623.33 1023.68L624.23 1024.92L625.14 1026.17L626.04 1027.42L626.95 1028.68L627.86 1029.94L628.76 1031.2L629.67 1032.46L630.58 1033.73L631.48 1035L632.39 1036.27L633.29 1037.54L634.2 1038.82L635.11 1040.1L636.01 1041.38L636.92 1042.67L637.83 1043.96L638.73 1045.25L639.64 1046.54L640.54 1047.83L641.45 1049.13L642.36 1050.43L643.26 1051.73L644.17 1053.04L645.08 1054.34L645.98 1055.65L646.89 1056.96L647.79 1058.28L648.7 1059.59L649.61 1060.91L650.51 1062.23L651.42 1063.55L652.33 1064.88L653.23 1066.21L654.14 1067.54L655.04 1068.87L655.95 1070.21L656.86 1071.54L657.76 1072.88L658.67 1074.22L659.58 1075.57L660.48 1076.92L661.39 1078.26L662.29 1079.62L663.2 1080.97L664.11 1082.33L665.01 1083.68L665.92 1085.04L666.83 1086.41L667.73 1087.77L668.64 1089.14L669.54 1090.51L670.45 1091.88L671.36 1093.26L672.26 1094.63L673.17 1096.01L674.07 1097.39L674.98 1098.77L675.89 1100.16L676.79 1101.54L677.7 1102.93L678.61 1104.32L679.51 1105.71L680.42 1107.1L681.32 1108.49L682.23 1109.89L683.14 1111.28L684.04 1112.68L684.95 1114.07L685.86 1115.47L686.76 1116.87L687.67 1118.26L688.57 1119.66L689.48 1121.06L690.39 1122.45L691.29 1123.85L692.2 1125.25L693.11 1126.64L694.01 1128.04L694.92 1129.43L695.82 1130.83L696.73 1132.22L697.64 1133.61L698.54 1135L699.45 1136.39L700.36 1137.78L701.26 1139.17L702.17 1140.55L703.07 1141.94L703.98 1143.32L704.89 1144.7L705.79 1146.07L706.7 1147.45L707.61 1148.82L708.51 1150.19L709.42 1151.56L710.32 1152.92L711.23 1154.29L712.14 1155.65L713.04 1157.01L713.95 1158.36L714.86 1159.71L715.76 1161.06L716.67 1162.41L717.57 1163.76L718.48 1165.1L719.39 1166.43L720.29 1167.77L721.2 1169.1L722.11 1170.43L723.01 1171.76L723.92 1173.08L724.82 1174.4L725.73 1175.71L726.64 1177.02L727.54 1178.33L728.45 1179.63L729.35 1180.93L730.26 1182.23L731.17 1183.52L732.07 1184.81L732.98 1186.1L733.89 1187.37L734.79 1188.65L735.7 1189.92L736.6 1191.19L737.51 1192.45L738.42 1193.71L739.32 1194.96L740.23 1196.21L741.14 1197.45L742.04 1198.69L742.95 1199.92L743.85 1201.14L744.76 1202.36L745.67 1203.57L746.57 1204.78L747.48 1205.97L748.39 1207.16L749.29 1208.35L750.2 1209.53L751.1 1210.7L752.01 1211.86L752.92 1213.01L753.82 1214.16L754.73 1215.3L755.64 1216.43L756.54 1217.55L757.45 1218.66L758.35 1219.77L759.26 1220.86L760.17 1221.95L761.07 1223.03L761.98 1224.09L762.89 1225.15L763.79 1226.2L764.7 1227.24L765.6 1228.27L766.51 1229.29L767.42 1230.3L768.32 1231.3L769.23 1232.29L770.14 1233.27L771.04 1234.24L771.95 1235.2L772.85 1236.15L773.76 1237.09L774.67 1238.02L775.57 1238.94L776.48 1239.85L777.38 1240.75L778.29 1241.64L779.2 1242.52L780.1 1243.39L781.01 1244.25L781.92 1245.1L782.82 1245.94L783.73 1246.77L784.63 1247.59L785.54 1248.4L786.45 1249.2L787.35 1249.99L788.26 1250.77L789.17 1251.54L790.07 1252.3L790.98 1253.06L791.88 1253.8L792.79 1254.53L793.7 1255.25L794.6 1255.96L795.51 1256.67L796.42 1257.36L797.32 1258.04L798.23 1258.72L799.13 1259.38L800.04 1260.04L800.95 1260.68L801.85 1261.32L802.76 1261.94L803.67 1262.55L804.57 1263.16L805.48 1263.75L806.38 1264.34L807.29 1264.91L808.2 1265.47L809.1 1266.02L810.01 1266.57L810.92 1267.1L811.82 1267.62L812.73 1268.13L813.63 1268.63L814.54 1269.12L815.45 1269.59L816.35 1270.06L817.26 1270.52L818.17 1270.96L819.07 1271.4L819.98 1271.82L820.88 1272.23L821.79 1272.63L822.7 1273.02L823.6 1273.4L824.51 1273.77L825.42 1274.13L826.32 1274.48L827.23 1274.82L828.13 1275.14L829.04 1275.46L829.95 1275.76L830.85 1276.05L831.76 1276.34L832.66 1276.61L833.57 1276.87L834.48 1277.12L835.38 1277.36L836.29 1277.59L837.2 1277.81L838.1 1278.02L839.01 1278.21L839.91 1278.4L840.82 1278.57L841.73 1278.73L842.63 1278.88L843.54 1279.03L844.45 1279.16L845.35 1279.28L846.26 1279.39L847.16 1279.5L848.07 1279.59L848.98 1279.68L849.88 1279.75L850.79 1279.82L851.7 1279.89L852.6 1279.94L853.51 1279.99L854.41 1280.04L855.32 1280.07L856.23 1280.11L857.13 1280.14L858.04 1280.16L858.95 1280.18L859.85 1280.2L860.76 1280.21L861.66 1280.23L862.57 1280.24L863.48 1280.24L864.38 1280.25L865.29 1280.25L866.2 1280.25L867.1 1280.25L868.01 1280.25L868.91 1280.25L869.82 1280.25L870.73 1280.25L871.63 1280.24L872.54 1280.23L873.45 1280.23L874.35 1280.22L875.26 1280.21L876.16 1280.19L877.07 1280.18L877.98 1280.16L878.88 1280.15L879.79 1280.13L880.7 1280.11L881.6 1280.09L882.51 1280.07L883.41 1280.05L884.32 1280.02L885.23 1280L886.13 1279.97L887.04 1279.95L887.94 1279.92L888.85 1279.9L889.76 1279.87L890.66 1279.85L891.57 1279.82L892.48 1279.8L893.38 1279.78L894.29 1279.77L895.19 1279.75L896.1 1279.74L897.01 1279.73L897.91 1279.73L898.82 1279.73L899.73 1279.73L900.63 1279.73L901.54 1279.74L902.44 1279.74L903.35 1279.75L904.26 1279.77L905.16 1279.78L906.07 1279.8L906.98 1279.82L907.88 1279.84L908.79 1279.86L909.69 1279.88L910.6 1279.91L911.51 1279.93L912.41 1279.95L913.32 1279.98L914.23 1280L915.13 1280.03L916.04 1280.05L916.94 1280.08L917.85 1280.1L918.76 1280.12L919.66 1280.14L920.57 1280.16L921.48 1280.18L922.38 1280.2L923.29 1280.22L924.19 1280.23L925.1 1280.25L926.01 1280.26L926.91 1280.27L927.82 1280.28L928.73 1280.29L929.63 1280.3L930.54 1280.3L931.44 1280.31L932.35 1280.31L933.26 1280.31L934.16 1280.31L935.07 1280.31L935.98 1280.31L936.88 1280.31L937.79 1280.31L938.69 1280.3L939.6 1280.3" stroke="#C8912E" stroke-width="5.3" fill="none" stroke-linejoin="round"/>
</g>
<g>
<path d="M1172.7 1258V1264.8M1164.2 1258h17M1164.2 1264.8h17M1194.2 1253V1260.4M1185.7 1253h17M1185.7 1260.4h17M1221.2 1241.5V1245.5M1212.7 1241.5h17M1212.7 1245.5h17M1274.8 1205.3V1210.3M1266.3 1205.3h17M1266.3 1210.3h17M1284.8 1197.6V1203.6M1276.3 1197.6h17M1276.3 1203.6h17M1306.5 1178.7V1185.9M1298 1178.7h17M1298 1185.9h17M1328.5 1146.9V1151.7M1320 1146.9h17M1320 1151.7h17M1348.2 1119.3V1124.3M1339.7 1119.3h17M1339.7 1124.3h17M1360.3 1120.8V1125.8M1351.8 1120.8h17M1351.8 1125.8h17M1359.5 1100.9V1104.9M1351 1100.9h17M1351 1104.9h17M1376.2 1067V1072M1367.7 1067h17M1367.7 1072h17" stroke="#5A68AE" stroke-width="1.7" fill="none"/>
<g fill="#5A68AE"><circle cx="1172.7" cy="1261.4" r="6.2"/><circle cx="1194.2" cy="1256.7" r="6.2"/><circle cx="1221.2" cy="1243.5" r="6.2"/><circle cx="1274.8" cy="1207.8" r="6.2"/><circle cx="1284.8" cy="1200.6" r="6.2"/><circle cx="1306.5" cy="1182.3" r="6.2"/><circle cx="1328.5" cy="1149.3" r="6.2"/><circle cx="1348.2" cy="1121.8" r="6.2"/><circle cx="1360.3" cy="1123.3" r="6.2"/><circle cx="1359.5" cy="1102.9" r="6.2"/><circle cx="1376.2" cy="1069.5" r="6.2"/></g>
<path d="M1381.6 1091.5V1097.5M1373.1 1091.5h17M1373.1 1097.5h17M1387.6 1074.4V1080.4M1379.1 1074.4h17M1379.1 1080.4h17M1397.5 1059.5V1065.5M1389 1059.5h17M1389 1065.5h17M1404.2 1045.2V1051.2M1395.7 1045.2h17M1395.7 1051.2h17M1416.8 1032.5V1038.5M1408.3 1032.5h17M1408.3 1038.5h17M1400.7 1047V1052M1392.2 1047h17M1392.2 1052h17M1413.1 1035.3V1040.3M1404.6 1035.3h17M1404.6 1040.3h17M1419.9 1029.6V1033.6M1411.4 1029.6h17M1411.4 1033.6h17M1419.9 1016.4V1019.4M1411.4 1016.4h17M1411.4 1019.4h17M1439.9 993.1V997.1M1431.4 993.1h17M1431.4 997.1h17M1455.8 976.3V982.3M1447.3 976.3h17M1447.3 982.3h17M1487.7 963.5V975.3M1479.2 963.5h17M1479.2 975.3h17M1504.5 969V972.4M1496 969h17M1496 972.4h17M1508.8 961.2V965.2M1500.3 961.2h17M1500.3 965.2h17M1520.6 941.4V945.4M1512.1 941.4h17M1512.1 945.4h17M1531.1 961.4V970M1522.6 961.4h17M1522.6 970h17M1536.1 944.5V966.5M1527.6 944.5h17M1527.6 966.5h17M1562.5 956.6V966M1554 956.6h17M1554 966h17M1647.6 1039.5V1049.5M1639.1 1039.5h17M1639.1 1049.5h17M1690.6 1067.7V1071.7M1682.1 1067.7h17M1682.1 1071.7h17M1732.6 1124.5V1127.5M1724.1 1124.5h17M1724.1 1127.5h17M1807.5 1213.8V1217.8M1799 1213.8h17M1799 1217.8h17M1813.7 1217.6V1221.6M1805.2 1217.6h17M1805.2 1221.6h17M1850.9 1259.3V1263.3M1842.4 1259.3h17M1842.4 1263.3h17M1872.5 1274.1V1278.1M1864 1274.1h17M1864 1278.1h17M1904.6 1282.6V1287.4M1896.1 1282.6h17M1896.1 1287.4h17M1946.7 1262.9V1283.1M1938.2 1262.9h17M1938.2 1283.1h17M1989.2 1280.7V1295.7M1980.7 1280.7h17M1980.7 1295.7h17" stroke="#C8912E" stroke-width="1.7" fill="none"/>
<g fill="#C8912E"><circle cx="1381.6" cy="1094.5" r="6.2"/><circle cx="1387.6" cy="1077.4" r="6.2"/><circle cx="1397.5" cy="1062.5" r="6.2"/><circle cx="1404.2" cy="1048.2" r="6.2"/><circle cx="1416.8" cy="1035.5" r="6.2"/><circle cx="1400.7" cy="1049.5" r="6.2"/><circle cx="1413.1" cy="1037.8" r="6.2"/><circle cx="1419.9" cy="1031.6" r="6.2"/><circle cx="1419.9" cy="1017.9" r="6.2"/><circle cx="1439.9" cy="995.1" r="6.2"/><circle cx="1455.8" cy="979.3" r="6.2"/><circle cx="1487.7" cy="969.4" r="6.2"/><circle cx="1504.5" cy="970.7" r="6.2"/><circle cx="1508.8" cy="963.2" r="6.2"/><circle cx="1520.6" cy="943.4" r="6.2"/><circle cx="1531.1" cy="965.7" r="6.2"/><circle cx="1536.1" cy="955.5" r="6.2"/><circle cx="1562.5" cy="961.3" r="6.2"/><circle cx="1647.6" cy="1044.5" r="6.2"/><circle cx="1690.6" cy="1069.7" r="6.2"/><circle cx="1732.6" cy="1126" r="6.2"/><circle cx="1807.5" cy="1215.8" r="6.2"/><circle cx="1813.7" cy="1219.6" r="6.2"/><circle cx="1850.9" cy="1261.3" r="6.2"/><circle cx="1872.5" cy="1276.1" r="6.2"/><circle cx="1904.6" cy="1285" r="6.2"/><circle cx="1946.7" cy="1273" r="6.2"/><circle cx="1989.2" cy="1288.2" r="6.2"/></g>
<path d="M1172.4 1249.88L1173.31 1249.83L1174.22 1249.78L1175.13 1249.72L1176.03 1249.66L1176.94 1249.6L1177.85 1249.54L1178.76 1249.47L1179.67 1249.4L1180.58 1249.33L1181.48 1249.25L1182.39 1249.18L1183.3 1249.1L1184.21 1249.01L1185.12 1248.92L1186.03 1248.83L1186.93 1248.74L1187.84 1248.64L1188.75 1248.54L1189.66 1248.43L1190.57 1248.32L1191.48 1248.21L1192.38 1248.09L1193.29 1247.97L1194.2 1247.84L1195.11 1247.71L1196.02 1247.58L1196.93 1247.44L1197.83 1247.29L1198.74 1247.14L1199.65 1246.99L1200.56 1246.83L1201.47 1246.66L1202.38 1246.49L1203.28 1246.31L1204.19 1246.13L1205.1 1245.94L1206.01 1245.75L1206.92 1245.55L1207.83 1245.34L1208.73 1245.13L1209.64 1244.91L1210.55 1244.68L1211.46 1244.45L1212.37 1244.21L1213.28 1243.97L1214.18 1243.71L1215.09 1243.45L1216 1243.19L1216.91 1242.91L1217.82 1242.63L1218.73 1242.35L1219.63 1242.05L1220.54 1241.75L1221.45 1241.45L1222.36 1241.13L1223.27 1240.81L1224.18 1240.49L1225.08 1240.15L1225.99 1239.81L1226.9 1239.47L1227.81 1239.11L1228.72 1238.75L1229.63 1238.38L1230.53 1238.01L1231.44 1237.63L1232.35 1237.24L1233.26 1236.85L1234.17 1236.45L1235.08 1236.04L1235.98 1235.63L1236.89 1235.21L1237.8 1234.79L1238.71 1234.35L1239.62 1233.91L1240.53 1233.47L1241.43 1233.02L1242.34 1232.56L1243.25 1232.09L1244.16 1231.62L1245.07 1231.14L1245.98 1230.66L1246.88 1230.17L1247.79 1229.67L1248.7 1229.17L1249.61 1228.66L1250.52 1228.15L1251.43 1227.63L1252.33 1227.1L1253.24 1226.56L1254.15 1226.02L1255.06 1225.48L1255.97 1224.93L1256.88 1224.37L1257.78 1223.8L1258.69 1223.24L1259.6 1222.66L1260.51 1222.08L1261.42 1221.49L1262.33 1220.9L1263.23 1220.3L1264.14 1219.69L1265.05 1219.08L1265.96 1218.47L1266.87 1217.85L1267.78 1217.22L1268.68 1216.59L1269.59 1215.95L1270.5 1215.31L1271.41 1214.66L1272.32 1214L1273.23 1213.35L1274.13 1212.68L1275.04 1212.01L1275.95 1211.34L1276.86 1210.66L1277.77 1209.98L1278.68 1209.28L1279.58 1208.59L1280.49 1207.89L1281.4 1207.18L1282.31 1206.46L1283.22 1205.74L1284.13 1205.02L1285.03 1204.28L1285.94 1203.54L1286.85 1202.79L1287.76 1202.03L1288.67 1201.27L1289.58 1200.5L1290.48 1199.72L1291.39 1198.93L1292.3 1198.14L1293.21 1197.33L1294.12 1196.52L1295.03 1195.7L1295.93 1194.87L1296.84 1194.03L1297.75 1193.18L1298.66 1192.32L1299.57 1191.46L1300.48 1190.58L1301.38 1189.69L1302.29 1188.79L1303.2 1187.88L1304.11 1186.96L1305.02 1186.03L1305.93 1185.09L1306.83 1184.13L1307.74 1183.17L1308.65 1182.19L1309.56 1181.2L1310.47 1180.2L1311.38 1179.19L1312.28 1178.17L1313.19 1177.13L1314.1 1176.09L1315.01 1175.03L1315.92 1173.96L1316.83 1172.88L1317.73 1171.79L1318.64 1170.68L1319.55 1169.57L1320.46 1168.44L1321.37 1167.3L1322.28 1166.15L1323.18 1164.99L1324.09 1163.82L1325 1162.63L1325.91 1161.44L1326.82 1160.23L1327.73 1159.01L1328.63 1157.78L1329.54 1156.54L1330.45 1155.28L1331.36 1154.02L1332.27 1152.74L1333.18 1151.46L1334.08 1150.16L1334.99 1148.85L1335.9 1147.53L1336.81 1146.2L1337.72 1144.85L1338.63 1143.5L1339.54 1142.14L1340.44 1140.76L1341.35 1139.38L1342.26 1137.98L1343.17 1136.57L1344.08 1135.16L1344.99 1133.73L1345.89 1132.3L1346.8 1130.85L1347.71 1129.39L1348.62 1127.93L1349.53 1126.46L1350.44 1124.97L1351.34 1123.48L1352.25 1121.98L1353.16 1120.48L1354.07 1118.96L1354.98 1117.44L1355.89 1115.9L1356.79 1114.36L1357.7 1112.82L1358.61 1111.26L1359.52 1109.7L1360.43 1108.13L1361.34 1106.56L1362.24 1104.98L1363.15 1103.39L1364.06 1101.8L1364.97 1100.2L1365.88 1098.59L1366.79 1096.99L1367.69 1095.37L1368.6 1093.75L1369.51 1092.13L1370.42 1090.5L1371.33 1088.87L1372.24 1087.23L1373.14 1085.59L1374.05 1083.95L1374.96 1082.3L1375.87 1080.66L1376.78 1079.01L1377.69 1077.36L1378.59 1075.7L1379.5 1074.05L1380.41 1072.4L1380.7 1071.87" stroke="#5A68AE" stroke-width="5.3" fill="none" stroke-linejoin="round"/>
<path d="M1380.7 1071.87L1381.32 1070.74L1382.23 1069.09L1383.14 1067.44L1384.04 1065.78L1384.95 1064.13L1385.86 1062.48L1386.77 1060.84L1387.68 1059.19L1388.59 1057.55L1389.49 1055.91L1390.4 1054.28L1391.31 1052.65L1392.22 1051.02L1393.13 1049.39L1394.04 1047.78L1394.94 1046.16L1395.85 1044.56L1396.76 1042.95L1397.67 1041.36L1398.58 1039.77L1399.49 1038.19L1400.39 1036.61L1401.3 1035.04L1402.21 1033.48L1403.12 1031.93L1404.03 1030.39L1404.94 1028.85L1405.84 1027.33L1406.75 1025.81L1407.66 1024.3L1408.57 1022.8L1409.48 1021.32L1410.39 1019.84L1411.29 1018.37L1412.2 1016.92L1413.11 1015.47L1414.02 1014.04L1414.93 1012.61L1415.84 1011.2L1416.74 1009.8L1417.65 1008.42L1418.56 1007.04L1419.47 1005.68L1420.38 1004.33L1421.29 1003L1422.19 1001.68L1423.1 1000.37L1424.01 999.07L1424.92 997.79L1425.83 996.52L1426.74 995.27L1427.64 994.03L1428.55 992.81L1429.46 991.6L1430.37 990.4L1431.28 989.22L1432.19 988.06L1433.09 986.91L1434 985.78L1434.91 984.66L1435.82 983.56L1436.73 982.47L1437.64 981.4L1438.54 980.34L1439.45 979.3L1440.36 978.27L1441.27 977.26L1442.18 976.27L1443.09 975.29L1443.99 974.32L1444.9 973.37L1445.81 972.44L1446.72 971.52L1447.63 970.62L1448.54 969.73L1449.44 968.85L1450.35 968L1451.26 967.15L1452.17 966.32L1453.08 965.51L1453.99 964.71L1454.89 963.92L1455.8 963.15L1456.71 962.4L1457.62 961.66L1458.53 960.93L1459.44 960.22L1460.34 959.52L1461.25 958.84L1462.16 958.17L1463.07 957.52L1463.98 956.88L1464.89 956.25L1465.79 955.64L1466.7 955.04L1467.61 954.46L1468.52 953.89L1469.43 953.33L1470.34 952.79L1471.24 952.26L1472.15 951.74L1473.06 951.24L1473.97 950.75L1474.88 950.27L1475.79 949.8L1476.69 949.35L1477.6 948.91L1478.51 948.48L1479.42 948.06L1480.33 947.65L1481.24 947.26L1482.14 946.87L1483.05 946.5L1483.96 946.14L1484.87 945.78L1485.78 945.44L1486.69 945.11L1487.59 944.79L1488.5 944.48L1489.41 944.19L1490.32 943.9L1491.23 943.62L1492.14 943.35L1493.04 943.09L1493.95 942.84L1494.86 942.6L1495.77 942.36L1496.68 942.14L1497.59 941.93L1498.49 941.72L1499.4 941.53L1500.31 941.34L1501.22 941.16L1502.13 940.99L1503.04 940.83L1503.95 940.68L1504.85 940.54L1505.76 940.4L1506.67 940.28L1507.58 940.16L1508.49 940.06L1509.4 939.96L1510.3 939.87L1511.21 939.78L1512.12 939.71L1513.03 939.65L1513.94 939.59L1514.85 939.55L1515.75 939.51L1516.66 939.48L1517.57 939.46L1518.48 939.45L1519.39 939.45L1520.3 939.45L1521.2 939.47L1522.11 939.49L1523.02 939.53L1523.93 939.57L1524.84 939.62L1525.75 939.68L1526.65 939.75L1527.56 939.83L1528.47 939.91L1529.38 940.01L1530.29 940.11L1531.2 940.23L1532.1 940.35L1533.01 940.48L1533.92 940.63L1534.83 940.78L1535.74 940.94L1536.65 941.1L1537.55 941.28L1538.46 941.47L1539.37 941.66L1540.28 941.87L1541.19 942.08L1542.1 942.3L1543 942.53L1543.91 942.77L1544.82 943.02L1545.73 943.27L1546.64 943.54L1547.55 943.81L1548.45 944.1L1549.36 944.39L1550.27 944.69L1551.18 945L1552.09 945.31L1553 945.64L1553.9 945.97L1554.81 946.32L1555.72 946.67L1556.63 947.03L1557.54 947.4L1558.45 947.77L1559.35 948.16L1560.26 948.55L1561.17 948.96L1562.08 949.37L1562.99 949.79L1563.9 950.22L1564.8 950.65L1565.71 951.1L1566.62 951.55L1567.53 952.01L1568.44 952.48L1569.35 952.95L1570.25 953.44L1571.16 953.93L1572.07 954.43L1572.98 954.93L1573.89 955.45L1574.8 955.97L1575.7 956.49L1576.61 957.03L1577.52 957.57L1578.43 958.11L1579.34 958.67L1580.25 959.23L1581.15 959.79L1582.06 960.36L1582.97 960.94L1583.88 961.52L1584.79 962.11L1585.7 962.7L1586.6 963.3L1587.51 963.91L1588.42 964.52L1589.33 965.13L1590.24 965.75L1591.15 966.37L1592.05 967L1592.96 967.63L1593.87 968.27L1594.78 968.91L1595.69 969.55L1596.6 970.2L1597.5 970.85L1598.41 971.51L1599.32 972.16L1600.23 972.83L1601.14 973.5L1602.05 974.17L1602.95 974.85L1603.86 975.53L1604.77 976.21L1605.68 976.9L1606.59 977.6L1607.5 978.3L1608.4 979L1609.31 979.71L1610.22 980.43L1611.13 981.15L1612.04 981.87L1612.95 982.6L1613.85 983.33L1614.76 984.07L1615.67 984.82L1616.58 985.57L1617.49 986.33L1618.4 987.09L1619.3 987.86L1620.21 988.63L1621.12 989.41L1622.03 990.2L1622.94 990.99L1623.85 991.79L1624.75 992.59L1625.66 993.4L1626.57 994.21L1627.48 995.04L1628.39 995.87L1629.3 996.7L1630.2 997.54L1631.11 998.39L1632.02 999.24L1632.93 1000.1L1633.84 1000.96L1634.75 1001.83L1635.65 1002.71L1636.56 1003.59L1637.47 1004.48L1638.38 1005.37L1639.29 1006.27L1640.2 1007.18L1641.1 1008.08L1642.01 1009L1642.92 1009.92L1643.83 1010.84L1644.74 1011.77L1645.65 1012.71L1646.55 1013.65L1647.46 1014.59L1648.37 1015.54L1649.28 1016.49L1650.19 1017.45L1651.1 1018.41L1652 1019.38L1652.91 1020.35L1653.82 1021.33L1654.73 1022.31L1655.64 1023.29L1656.55 1024.28L1657.45 1025.27L1658.36 1026.26L1659.27 1027.26L1660.18 1028.26L1661.09 1029.27L1662 1030.28L1662.91 1031.29L1663.81 1032.31L1664.72 1033.33L1665.63 1034.35L1666.54 1035.38L1667.45 1036.41L1668.36 1037.44L1669.26 1038.48L1670.17 1039.52L1671.08 1040.56L1671.99 1041.61L1672.9 1042.66L1673.81 1043.71L1674.71 1044.77L1675.62 1045.83L1676.53 1046.89L1677.44 1047.96L1678.35 1049.02L1679.26 1050.1L1680.16 1051.17L1681.07 1052.25L1681.98 1053.33L1682.89 1054.41L1683.8 1055.49L1684.71 1056.58L1685.61 1057.67L1686.52 1058.76L1687.43 1059.86L1688.34 1060.96L1689.25 1062.06L1690.16 1063.16L1691.06 1064.27L1691.97 1065.37L1692.88 1066.48L1693.79 1067.59L1694.7 1068.71L1695.61 1069.83L1696.51 1070.95L1697.42 1072.07L1698.33 1073.19L1699.24 1074.32L1700.15 1075.45L1701.06 1076.58L1701.96 1077.71L1702.87 1078.85L1703.78 1079.99L1704.69 1081.13L1705.6 1082.27L1706.51 1083.42L1707.41 1084.56L1708.32 1085.71L1709.23 1086.87L1710.14 1088.02L1711.05 1089.18L1711.96 1090.34L1712.86 1091.5L1713.77 1092.67L1714.68 1093.84L1715.59 1095.01L1716.5 1096.18L1717.41 1097.35L1718.31 1098.53L1719.22 1099.71L1720.13 1100.89L1721.04 1102.07L1721.95 1103.26L1722.86 1104.45L1723.76 1105.64L1724.67 1106.83L1725.58 1108.02L1726.49 1109.22L1727.4 1110.42L1728.31 1111.62L1729.21 1112.82L1730.12 1114.03L1731.03 1115.23L1731.94 1116.44L1732.85 1117.64L1733.76 1118.85L1734.66 1120.06L1735.57 1121.27L1736.48 1122.48L1737.39 1123.7L1738.3 1124.91L1739.21 1126.12L1740.11 1127.33L1741.02 1128.55L1741.93 1129.76L1742.84 1130.98L1743.75 1132.19L1744.66 1133.41L1745.56 1134.62L1746.47 1135.83L1747.38 1137.05L1748.29 1138.26L1749.2 1139.47L1750.11 1140.68L1751.01 1141.89L1751.92 1143.1L1752.83 1144.31L1753.74 1145.52L1754.65 1146.72L1755.56 1147.93L1756.46 1149.13L1757.37 1150.33L1758.28 1151.53L1759.19 1152.73L1760.1 1153.93L1761.01 1155.12L1761.91 1156.32L1762.82 1157.51L1763.73 1158.7L1764.64 1159.89L1765.55 1161.07L1766.46 1162.26L1767.36 1163.44L1768.27 1164.62L1769.18 1165.8L1770.09 1166.97L1771 1168.14L1771.91 1169.31L1772.81 1170.48L1773.72 1171.65L1774.63 1172.81L1775.54 1173.97L1776.45 1175.13L1777.36 1176.29L1778.26 1177.44L1779.17 1178.59L1780.08 1179.74L1780.99 1180.88L1781.9 1182.02L1782.81 1183.16L1783.71 1184.29L1784.62 1185.42L1785.53 1186.55L1786.44 1187.68L1787.35 1188.8L1788.26 1189.91L1789.16 1191.03L1790.07 1192.14L1790.98 1193.24L1791.89 1194.34L1792.8 1195.44L1793.71 1196.53L1794.61 1197.62L1795.52 1198.7L1796.43 1199.78L1797.34 1200.85L1798.25 1201.91L1799.16 1202.97L1800.06 1204.03L1800.97 1205.07L1801.88 1206.12L1802.79 1207.15L1803.7 1208.18L1804.61 1209.2L1805.51 1210.22L1806.42 1211.23L1807.33 1212.23L1808.24 1213.22L1809.15 1214.21L1810.06 1215.19L1810.96 1216.16L1811.87 1217.13L1812.78 1218.08L1813.69 1219.03L1814.6 1219.97L1815.51 1220.91L1816.41 1221.83L1817.32 1222.75L1818.23 1223.66L1819.14 1224.55L1820.05 1225.45L1820.96 1226.33L1821.86 1227.2L1822.77 1228.07L1823.68 1228.92L1824.59 1229.77L1825.5 1230.61L1826.41 1231.44L1827.32 1232.27L1828.22 1233.08L1829.13 1233.89L1830.04 1234.68L1830.95 1235.47L1831.86 1236.26L1832.77 1237.03L1833.67 1237.79L1834.58 1238.55L1835.49 1239.3L1836.4 1240.04L1837.31 1240.77L1838.22 1241.49L1839.12 1242.21L1840.03 1242.91L1840.94 1243.61L1841.85 1244.3L1842.76 1244.98L1843.67 1245.66L1844.57 1246.32L1845.48 1246.98L1846.39 1247.63L1847.3 1248.27L1848.21 1248.9L1849.12 1249.52L1850.02 1250.14L1850.93 1250.75L1851.84 1251.35L1852.75 1251.94L1853.66 1252.52L1854.57 1253.09L1855.47 1253.66L1856.38 1254.21L1857.29 1254.76L1858.2 1255.3L1859.11 1255.83L1860.02 1256.35L1860.92 1256.86L1861.83 1257.37L1862.74 1257.86L1863.65 1258.34L1864.56 1258.82L1865.47 1259.29L1866.37 1259.74L1867.28 1260.19L1868.19 1260.63L1869.1 1261.06L1870.01 1261.48L1870.92 1261.89L1871.82 1262.29L1872.73 1262.68L1873.64 1263.06L1874.55 1263.44L1875.46 1263.8L1876.37 1264.15L1877.27 1264.5L1878.18 1264.83L1879.09 1265.16L1880 1265.48L1880.91 1265.79L1881.82 1266.09L1882.72 1266.38L1883.63 1266.66L1884.54 1266.93L1885.45 1267.19L1886.36 1267.44L1887.27 1267.68L1888.17 1267.91L1889.08 1268.13L1889.99 1268.35L1890.9 1268.55L1891.81 1268.74L1892.72 1268.92L1893.62 1269.09L1894.53 1269.26L1895.44 1269.41L1896.35 1269.55L1897.26 1269.69L1898.17 1269.81L1899.07 1269.93L1899.98 1270.04L1900.89 1270.14L1901.8 1270.23L1902.71 1270.32L1903.62 1270.4L1904.52 1270.47L1905.43 1270.53L1906.34 1270.59L1907.25 1270.64L1908.16 1270.69L1909.07 1270.73L1909.97 1270.77L1910.88 1270.8L1911.79 1270.83L1912.7 1270.85L1913.61 1270.87L1914.52 1270.88L1915.42 1270.89L1916.33 1270.9L1917.24 1270.9L1918.15 1270.9L1919.06 1270.9L1919.97 1270.89L1920.87 1270.88L1921.78 1270.87L1922.69 1270.86L1923.6 1270.84L1924.51 1270.82L1925.42 1270.8L1926.32 1270.77L1927.23 1270.75L1928.14 1270.72L1929.05 1270.69L1929.96 1270.66L1930.87 1270.62L1931.77 1270.59L1932.68 1270.55L1933.59 1270.51L1934.5 1270.48L1935.41 1270.44L1936.32 1270.4L1937.22 1270.36L1938.13 1270.32L1939.04 1270.28L1939.95 1270.25L1940.86 1270.21L1941.77 1270.18L1942.67 1270.15L1943.58 1270.12L1944.49 1270.1L1945.4 1270.08L1946.31 1270.06L1947.22 1270.05L1948.12 1270.04L1949.03 1270.04L1949.94 1270.04L1950.85 1270.04L1951.76 1270.05L1952.67 1270.06L1953.57 1270.07L1954.48 1270.09L1955.39 1270.11L1956.3 1270.13L1957.21 1270.16L1958.12 1270.19L1959.02 1270.22L1959.93 1270.25L1960.84 1270.28L1961.75 1270.32L1962.66 1270.36L1963.57 1270.39L1964.47 1270.43L1965.38 1270.47L1966.29 1270.51L1967.2 1270.55L1968.11 1270.59L1969.02 1270.63L1969.92 1270.66L1970.83 1270.7L1971.74 1270.74L1972.65 1270.78L1973.56 1270.81L1974.47 1270.85L1975.37 1270.88L1976.28 1270.91L1977.19 1270.94L1978.1 1270.97L1979.01 1271L1979.92 1271.03L1980.82 1271.05L1981.73 1271.08L1982.64 1271.1L1983.55 1271.12L1984.46 1271.14L1985.37 1271.16L1986.27 1271.17L1987.18 1271.19L1988.09 1271.2L1989 1271.21" stroke="#5A68AE" stroke-width="5.3" fill="none" stroke-dasharray="8.3 8.77"/>
<path d="M1174.6 1258.93L1175.51 1258.88L1176.42 1258.82L1177.32 1258.77L1178.23 1258.71L1179.14 1258.65L1180.05 1258.59L1180.95 1258.52L1181.86 1258.45L1182.77 1258.38L1183.68 1258.31L1184.58 1258.23L1185.49 1258.15L1186.4 1258.07L1187.31 1257.98L1188.21 1257.89L1189.12 1257.8L1190.03 1257.7L1190.94 1257.6L1191.84 1257.5L1192.75 1257.39L1193.66 1257.28L1194.57 1257.16L1195.47 1257.04L1196.38 1256.92L1197.29 1256.79L1198.2 1256.66L1199.1 1256.52L1200.01 1256.38L1200.92 1256.23L1201.83 1256.08L1202.73 1255.92L1203.64 1255.76L1204.55 1255.59L1205.46 1255.42L1206.36 1255.24L1207.27 1255.06L1208.18 1254.87L1209.09 1254.68L1209.99 1254.47L1210.9 1254.27L1211.81 1254.05L1212.72 1253.83L1213.63 1253.61L1214.53 1253.37L1215.44 1253.13L1216.35 1252.89L1217.26 1252.64L1218.16 1252.38L1219.07 1252.12L1219.98 1251.85L1220.89 1251.57L1221.79 1251.29L1222.7 1251L1223.61 1250.7L1224.52 1250.4L1225.42 1250.09L1226.33 1249.78L1227.24 1249.46L1228.15 1249.13L1229.05 1248.79L1229.96 1248.45L1230.87 1248.11L1231.78 1247.76L1232.68 1247.4L1233.59 1247.03L1234.5 1246.66L1235.41 1246.28L1236.31 1245.9L1237.22 1245.51L1238.13 1245.11L1239.04 1244.71L1239.94 1244.3L1240.85 1243.89L1241.76 1243.46L1242.67 1243.04L1243.57 1242.6L1244.48 1242.16L1245.39 1241.72L1246.3 1241.26L1247.21 1240.81L1248.11 1240.34L1249.02 1239.87L1249.93 1239.39L1250.84 1238.91L1251.74 1238.42L1252.65 1237.93L1253.56 1237.43L1254.47 1236.92L1255.37 1236.41L1256.28 1235.89L1257.19 1235.36L1258.1 1234.83L1259 1234.29L1259.91 1233.75L1260.82 1233.2L1261.73 1232.65L1262.63 1232.09L1263.54 1231.52L1264.45 1230.95L1265.36 1230.38L1266.26 1229.79L1267.17 1229.21L1268.08 1228.61L1268.99 1228.02L1269.89 1227.41L1270.8 1226.8L1271.71 1226.19L1272.62 1225.57L1273.52 1224.94L1274.43 1224.31L1275.34 1223.68L1276.25 1223.04L1277.15 1222.39L1278.06 1221.74L1278.97 1221.08L1279.88 1220.42L1280.78 1219.75L1281.69 1219.08L1282.6 1218.4L1283.51 1217.71L1284.42 1217.01L1285.32 1216.31L1286.23 1215.6L1287.14 1214.89L1288.05 1214.17L1288.95 1213.44L1289.86 1212.7L1290.77 1211.95L1291.68 1211.2L1292.58 1210.44L1293.49 1209.66L1294.4 1208.89L1295.31 1208.1L1296.21 1207.3L1297.12 1206.49L1298.03 1205.68L1298.94 1204.85L1299.84 1204.02L1300.75 1203.17L1301.66 1202.32L1302.57 1201.45L1303.47 1200.57L1304.38 1199.69L1305.29 1198.79L1306.2 1197.88L1307.1 1196.96L1308.01 1196.03L1308.92 1195.08L1309.83 1194.13L1310.73 1193.16L1311.64 1192.18L1312.55 1191.2L1313.46 1190.19L1314.36 1189.18L1315.27 1188.16L1316.18 1187.12L1317.09 1186.08L1318 1185.02L1318.9 1183.95L1319.81 1182.87L1320.72 1181.77L1321.63 1180.67L1322.53 1179.55L1323.44 1178.42L1324.35 1177.28L1325.26 1176.13L1326.16 1174.97L1327.07 1173.8L1327.98 1172.61L1328.89 1171.41L1329.79 1170.21L1330.7 1168.99L1331.61 1167.76L1332.52 1166.51L1333.42 1165.26L1334.33 1163.99L1335.24 1162.72L1336.15 1161.43L1337.05 1160.13L1337.96 1158.82L1338.87 1157.5L1339.78 1156.17L1340.68 1154.83L1341.59 1153.48L1342.5 1152.11L1343.41 1150.74L1344.31 1149.35L1345.22 1147.96L1346.13 1146.56L1347.04 1145.14L1347.94 1143.72L1348.85 1142.29L1349.76 1140.84L1350.67 1139.39L1351.57 1137.93L1352.48 1136.46L1353.39 1134.99L1354.3 1133.5L1355.21 1132.01L1356.11 1130.51L1357.02 1129L1357.93 1127.48L1358.84 1125.96L1359.74 1124.42L1360.65 1122.89L1361.56 1121.34L1362.47 1119.79L1363.37 1118.23L1364.28 1116.67L1365.19 1115.1L1366.1 1113.52L1367 1111.94L1367.91 1110.35L1368.82 1108.76L1369.73 1107.17L1370.63 1105.57L1371.54 1103.96L1372.45 1102.35L1373.36 1100.74L1374.26 1099.12L1375.17 1097.51L1376.08 1095.88L1376.99 1094.26L1377.89 1092.64L1378.8 1091.01L1379.71 1089.38L1380.62 1087.76L1380.7 1087.61" stroke="#C8912E" stroke-width="5.3" fill="none" stroke-dasharray="8.3 8.77"/>
<path d="M1380.7 1087.61L1381.52 1086.13L1382.43 1084.5L1383.34 1082.87L1384.25 1081.24L1385.15 1079.62L1386.06 1077.99L1386.97 1076.37L1387.88 1074.75L1388.79 1073.13L1389.69 1071.52L1390.6 1069.91L1391.51 1068.3L1392.42 1066.69L1393.32 1065.09L1394.23 1063.5L1395.14 1061.91L1396.05 1060.32L1396.95 1058.74L1397.86 1057.17L1398.77 1055.6L1399.68 1054.04L1400.58 1052.49L1401.49 1050.94L1402.4 1049.41L1403.31 1047.87L1404.21 1046.35L1405.12 1044.84L1406.03 1043.33L1406.94 1041.84L1407.84 1040.35L1408.75 1038.87L1409.66 1037.4L1410.57 1035.95L1411.47 1034.5L1412.38 1033.06L1413.29 1031.64L1414.2 1030.22L1415.1 1028.82L1416.01 1027.43L1416.92 1026.05L1417.83 1024.68L1418.73 1023.32L1419.64 1021.98L1420.55 1020.65L1421.46 1019.33L1422.36 1018.03L1423.27 1016.74L1424.18 1015.46L1425.09 1014.2L1426 1012.95L1426.9 1011.71L1427.81 1010.49L1428.72 1009.28L1429.63 1008.09L1430.53 1006.91L1431.44 1005.75L1432.35 1004.6L1433.26 1003.46L1434.16 1002.35L1435.07 1001.24L1435.98 1000.16L1436.89 999.08L1437.79 998.03L1438.7 996.98L1439.61 995.96L1440.52 994.95L1441.42 993.95L1442.33 992.97L1443.24 992L1444.15 991.05L1445.05 990.12L1445.96 989.2L1446.87 988.29L1447.78 987.4L1448.68 986.53L1449.59 985.66L1450.5 984.82L1451.41 983.99L1452.31 983.17L1453.22 982.37L1454.13 981.58L1455.04 980.81L1455.94 980.05L1456.85 979.31L1457.76 978.58L1458.67 977.86L1459.58 977.16L1460.48 976.48L1461.39 975.8L1462.3 975.14L1463.21 974.5L1464.11 973.87L1465.02 973.26L1465.93 972.65L1466.84 972.07L1467.74 971.49L1468.65 970.93L1469.56 970.38L1470.47 969.85L1471.37 969.33L1472.28 968.82L1473.19 968.32L1474.1 967.84L1475 967.37L1475.91 966.91L1476.82 966.46L1477.73 966.03L1478.63 965.61L1479.54 965.2L1480.45 964.8L1481.36 964.41L1482.26 964.03L1483.17 963.66L1484.08 963.31L1484.99 962.96L1485.89 962.63L1486.8 962.3L1487.71 961.99L1488.62 961.68L1489.52 961.39L1490.43 961.1L1491.34 960.83L1492.25 960.57L1493.15 960.31L1494.06 960.06L1494.97 959.83L1495.88 959.6L1496.79 959.38L1497.69 959.17L1498.6 958.97L1499.51 958.78L1500.42 958.6L1501.32 958.42L1502.23 958.26L1503.14 958.1L1504.05 957.95L1504.95 957.81L1505.86 957.68L1506.77 957.56L1507.68 957.44L1508.58 957.34L1509.49 957.24L1510.4 957.15L1511.31 957.07L1512.21 957L1513.12 956.94L1514.03 956.89L1514.94 956.84L1515.84 956.81L1516.75 956.78L1517.66 956.76L1518.57 956.75L1519.47 956.75L1520.38 956.76L1521.29 956.77L1522.2 956.8L1523.1 956.83L1524.01 956.87L1524.92 956.92L1525.83 956.98L1526.73 957.05L1527.64 957.13L1528.55 957.22L1529.46 957.31L1530.37 957.42L1531.27 957.53L1532.18 957.65L1533.09 957.78L1534 957.92L1534.9 958.07L1535.81 958.23L1536.72 958.4L1537.63 958.57L1538.53 958.76L1539.44 958.95L1540.35 959.15L1541.26 959.36L1542.16 959.58L1543.07 959.81L1543.98 960.05L1544.89 960.29L1545.79 960.54L1546.7 960.81L1547.61 961.08L1548.52 961.36L1549.42 961.64L1550.33 961.94L1551.24 962.25L1552.15 962.56L1553.05 962.88L1553.96 963.21L1554.87 963.55L1555.78 963.9L1556.68 964.25L1557.59 964.62L1558.5 964.99L1559.41 965.37L1560.31 965.76L1561.22 966.16L1562.13 966.57L1563.04 966.98L1563.94 967.4L1564.85 967.83L1565.76 968.27L1566.67 968.72L1567.58 969.18L1568.48 969.64L1569.39 970.11L1570.3 970.59L1571.21 971.07L1572.11 971.56L1573.02 972.06L1573.93 972.57L1574.84 973.08L1575.74 973.61L1576.65 974.13L1577.56 974.67L1578.47 975.21L1579.37 975.75L1580.28 976.31L1581.19 976.86L1582.1 977.43L1583 978L1583.91 978.57L1584.82 979.16L1585.73 979.74L1586.63 980.34L1587.54 980.93L1588.45 981.53L1589.36 982.14L1590.26 982.75L1591.17 983.37L1592.08 983.99L1592.99 984.61L1593.89 985.24L1594.8 985.87L1595.71 986.51L1596.62 987.15L1597.52 987.79L1598.43 988.44L1599.34 989.09L1600.25 989.75L1601.16 990.41L1602.06 991.07L1602.97 991.74L1603.88 992.41L1604.79 993.09L1605.69 993.77L1606.6 994.46L1607.51 995.15L1608.42 995.85L1609.32 996.55L1610.23 997.26L1611.14 997.97L1612.05 998.68L1612.95 999.41L1613.86 1000.13L1614.77 1000.86L1615.68 1001.6L1616.58 1002.34L1617.49 1003.09L1618.4 1003.84L1619.31 1004.6L1620.21 1005.37L1621.12 1006.14L1622.03 1006.92L1622.94 1007.7L1623.84 1008.49L1624.75 1009.28L1625.66 1010.08L1626.57 1010.89L1627.47 1011.7L1628.38 1012.52L1629.29 1013.34L1630.2 1014.17L1631.1 1015.01L1632.01 1015.85L1632.92 1016.7L1633.83 1017.56L1634.73 1018.42L1635.64 1019.28L1636.55 1020.16L1637.46 1021.03L1638.37 1021.92L1639.27 1022.8L1640.18 1023.7L1641.09 1024.59L1642 1025.5L1642.9 1026.41L1643.81 1027.32L1644.72 1028.24L1645.63 1029.16L1646.53 1030.09L1647.44 1031.02L1648.35 1031.96L1649.26 1032.9L1650.16 1033.85L1651.07 1034.8L1651.98 1035.76L1652.89 1036.71L1653.79 1037.68L1654.7 1038.65L1655.61 1039.62L1656.52 1040.59L1657.42 1041.57L1658.33 1042.55L1659.24 1043.54L1660.15 1044.53L1661.05 1045.52L1661.96 1046.52L1662.87 1047.52L1663.78 1048.52L1664.68 1049.53L1665.59 1050.54L1666.5 1051.55L1667.41 1052.57L1668.31 1053.59L1669.22 1054.61L1670.13 1055.64L1671.04 1056.67L1671.95 1057.7L1672.85 1058.74L1673.76 1059.78L1674.67 1060.82L1675.58 1061.87L1676.48 1062.91L1677.39 1063.96L1678.3 1065.02L1679.21 1066.07L1680.11 1067.13L1681.02 1068.19L1681.93 1069.26L1682.84 1070.33L1683.74 1071.4L1684.65 1072.47L1685.56 1073.54L1686.47 1074.62L1687.37 1075.7L1688.28 1076.78L1689.19 1077.86L1690.1 1078.95L1691 1080.04L1691.91 1081.13L1692.82 1082.22L1693.73 1083.32L1694.63 1084.42L1695.54 1085.52L1696.45 1086.62L1697.36 1087.72L1698.26 1088.83L1699.17 1089.94L1700.08 1091.05L1700.99 1092.16L1701.89 1093.28L1702.8 1094.39L1703.71 1095.51L1704.62 1096.64L1705.52 1097.76L1706.43 1098.89L1707.34 1100.02L1708.25 1101.15L1709.16 1102.28L1710.06 1103.41L1710.97 1104.55L1711.88 1105.69L1712.79 1106.83L1713.69 1107.98L1714.6 1109.12L1715.51 1110.27L1716.42 1111.42L1717.32 1112.58L1718.23 1113.73L1719.14 1114.89L1720.05 1116.05L1720.95 1117.21L1721.86 1118.37L1722.77 1119.54L1723.68 1120.7L1724.58 1121.87L1725.49 1123.04L1726.4 1124.22L1727.31 1125.39L1728.21 1126.57L1729.12 1127.74L1730.03 1128.92L1730.94 1130.1L1731.84 1131.28L1732.75 1132.46L1733.66 1133.65L1734.57 1134.83L1735.47 1136.01L1736.38 1137.2L1737.29 1138.38L1738.2 1139.57L1739.1 1140.75L1740.01 1141.94L1740.92 1143.13L1741.83 1144.31L1742.74 1145.5L1743.64 1146.68L1744.55 1147.87L1745.46 1149.05L1746.37 1150.24L1747.27 1151.42L1748.18 1152.6L1749.09 1153.78L1750 1154.96L1750.9 1156.14L1751.81 1157.32L1752.72 1158.5L1753.63 1159.67L1754.53 1160.85L1755.44 1162.02L1756.35 1163.19L1757.26 1164.36L1758.16 1165.52L1759.07 1166.69L1759.98 1167.85L1760.89 1169.01L1761.79 1170.17L1762.7 1171.33L1763.61 1172.48L1764.52 1173.64L1765.42 1174.79L1766.33 1175.93L1767.24 1177.08L1768.15 1178.22L1769.05 1179.36L1769.96 1180.5L1770.87 1181.64L1771.78 1182.77L1772.68 1183.9L1773.59 1185.03L1774.5 1186.15L1775.41 1187.27L1776.31 1188.39L1777.22 1189.51L1778.13 1190.62L1779.04 1191.73L1779.95 1192.83L1780.85 1193.93L1781.76 1195.03L1782.67 1196.13L1783.58 1197.22L1784.48 1198.31L1785.39 1199.39L1786.3 1200.47L1787.21 1201.55L1788.11 1202.62L1789.02 1203.69L1789.93 1204.76L1790.84 1205.82L1791.74 1206.87L1792.65 1207.92L1793.56 1208.97L1794.47 1210L1795.37 1211.04L1796.28 1212.07L1797.19 1213.09L1798.1 1214.11L1799 1215.12L1799.91 1216.12L1800.82 1217.12L1801.73 1218.12L1802.63 1219.1L1803.54 1220.08L1804.45 1221.05L1805.36 1222.02L1806.26 1222.97L1807.17 1223.93L1808.08 1224.87L1808.99 1225.8L1809.89 1226.73L1810.8 1227.65L1811.71 1228.56L1812.62 1229.47L1813.53 1230.36L1814.43 1231.25L1815.34 1232.13L1816.25 1233L1817.16 1233.86L1818.06 1234.72L1818.97 1235.56L1819.88 1236.4L1820.79 1237.22L1821.69 1238.04L1822.6 1238.85L1823.51 1239.65L1824.42 1240.45L1825.32 1241.23L1826.23 1242L1827.14 1242.77L1828.05 1243.53L1828.95 1244.28L1829.86 1245.02L1830.77 1245.75L1831.68 1246.47L1832.58 1247.19L1833.49 1247.9L1834.4 1248.59L1835.31 1249.28L1836.21 1249.96L1837.12 1250.64L1838.03 1251.3L1838.94 1251.95L1839.84 1252.6L1840.75 1253.24L1841.66 1253.87L1842.57 1254.49L1843.47 1255.1L1844.38 1255.71L1845.29 1256.3L1846.2 1256.89L1847.1 1257.47L1848.01 1258.04L1848.92 1258.6L1849.83 1259.15L1850.74 1259.7L1851.64 1260.24L1852.55 1260.76L1853.46 1261.28L1854.37 1261.79L1855.27 1262.29L1856.18 1262.79L1857.09 1263.27L1858 1263.74L1858.9 1264.21L1859.81 1264.67L1860.72 1265.11L1861.63 1265.55L1862.53 1265.98L1863.44 1266.4L1864.35 1266.81L1865.26 1267.21L1866.16 1267.6L1867.07 1267.99L1867.98 1268.36L1868.89 1268.72L1869.79 1269.08L1870.7 1269.42L1871.61 1269.76L1872.52 1270.08L1873.42 1270.4L1874.33 1270.71L1875.24 1271.01L1876.15 1271.3L1877.05 1271.58L1877.96 1271.85L1878.87 1272.11L1879.78 1272.36L1880.68 1272.6L1881.59 1272.84L1882.5 1273.06L1883.41 1273.28L1884.32 1273.48L1885.22 1273.68L1886.13 1273.87L1887.04 1274.05L1887.95 1274.21L1888.85 1274.37L1889.76 1274.52L1890.67 1274.66L1891.58 1274.8L1892.48 1274.92L1893.39 1275.03L1894.3 1275.14L1895.21 1275.24L1896.11 1275.33L1897.02 1275.41L1897.93 1275.48L1898.84 1275.55L1899.74 1275.61L1900.65 1275.66L1901.56 1275.71L1902.47 1275.75L1903.37 1275.79L1904.28 1275.82L1905.19 1275.85L1906.1 1275.87L1907 1275.89L1907.91 1275.91L1908.82 1275.93L1909.73 1275.94L1910.63 1275.95L1911.54 1275.95L1912.45 1275.96L1913.36 1275.96L1914.26 1275.97L1915.17 1275.97L1916.08 1275.97L1916.99 1275.97L1917.89 1275.97L1918.8 1275.97L1919.71 1275.97L1920.62 1275.97L1921.53 1275.96L1922.43 1275.96L1923.34 1275.96L1924.25 1275.95L1925.16 1275.95L1926.06 1275.94L1926.97 1275.93L1927.88 1275.93L1928.79 1275.92L1929.69 1275.91L1930.6 1275.89L1931.51 1275.88L1932.42 1275.87L1933.32 1275.85L1934.23 1275.84L1935.14 1275.82L1936.05 1275.81L1936.95 1275.79L1937.86 1275.77L1938.77 1275.75L1939.68 1275.74L1940.58 1275.72L1941.49 1275.7L1942.4 1275.69L1943.31 1275.67L1944.21 1275.66L1945.12 1275.65L1946.03 1275.64L1946.94 1275.63L1947.84 1275.63L1948.75 1275.62L1949.66 1275.62L1950.57 1275.62L1951.47 1275.63L1952.38 1275.63L1953.29 1275.64L1954.2 1275.65L1955.11 1275.66L1956.01 1275.67L1956.92 1275.68L1957.83 1275.7L1958.74 1275.71L1959.64 1275.73L1960.55 1275.74L1961.46 1275.76L1962.37 1275.78L1963.27 1275.79L1964.18 1275.81L1965.09 1275.83L1966 1275.84L1966.9 1275.86L1967.81 1275.87L1968.72 1275.89L1969.63 1275.9L1970.53 1275.91L1971.44 1275.93L1972.35 1275.94L1973.26 1275.95L1974.16 1275.96L1975.07 1275.96L1975.98 1275.97L1976.89 1275.98L1977.79 1275.98L1978.7 1275.98L1979.61 1275.98L1980.52 1275.98L1981.42 1275.98L1982.33 1275.98L1983.24 1275.98L1984.15 1275.98L1985.05 1275.97L1985.96 1275.97L1986.87 1275.96L1987.78 1275.96L1988.68 1275.95L1989.59 1275.94L1990.5 1275.94" stroke="#C8912E" stroke-width="5.3" fill="none" stroke-linejoin="round"/>
</g>
<path d="M87.2 597.2v-11M87.2 33.1v11M309.83 597.2v-11M309.83 33.1v11M532.47 597.2v-11M532.47 33.1v11M755.1 597.2v-11M755.1 33.1v11M977.74 597.2v-11M977.74 33.1v11M142.86 597.2v-6.6M142.86 33.1v6.6M198.52 597.2v-6.6M198.52 33.1v6.6M254.18 597.2v-6.6M254.18 33.1v6.6M365.49 597.2v-6.6M365.49 33.1v6.6M421.15 597.2v-6.6M421.15 33.1v6.6M476.81 597.2v-6.6M476.81 33.1v6.6M588.13 597.2v-6.6M588.13 33.1v6.6M643.79 597.2v-6.6M643.79 33.1v6.6M699.44 597.2v-6.6M699.44 33.1v6.6M810.76 597.2v-6.6M810.76 33.1v6.6M866.42 597.2v-6.6M866.42 33.1v6.6M922.08 597.2v-6.6M922.08 33.1v6.6M87.2 556.91h11M1000 556.91h-11M87.2 476.32h11M1000 476.32h-11M87.2 395.74h11M1000 395.74h-11M87.2 315.15h11M1000 315.15h-11M87.2 234.56h11M1000 234.56h-11M87.2 153.98h11M1000 153.98h-11M87.2 73.39h11M1000 73.39h-11M87.2 597.2h6.6M1000 597.2h-6.6M87.2 577.05h6.6M1000 577.05h-6.6M87.2 536.76h6.6M1000 536.76h-6.6M87.2 516.61h6.6M1000 516.61h-6.6M87.2 496.47h6.6M1000 496.47h-6.6M87.2 456.18h6.6M1000 456.18h-6.6M87.2 436.03h6.6M1000 436.03h-6.6M87.2 415.88h6.6M1000 415.88h-6.6M87.2 375.59h6.6M1000 375.59h-6.6M87.2 355.44h6.6M1000 355.44h-6.6M87.2 335.3h6.6M1000 335.3h-6.6M87.2 295h6.6M1000 295h-6.6M87.2 274.86h6.6M1000 274.86h-6.6M87.2 254.71h6.6M1000 254.71h-6.6M87.2 214.42h6.6M1000 214.42h-6.6M87.2 194.27h6.6M1000 194.27h-6.6M87.2 174.13h6.6M1000 174.13h-6.6M87.2 133.83h6.6M1000 133.83h-6.6M87.2 113.69h6.6M1000 113.69h-6.6M87.2 93.54h6.6M1000 93.54h-6.6M87.2 53.25h6.6M1000 53.25h-6.6M87.2 33.1h6.6M1000 33.1h-6.6" stroke="#000" stroke-width="1.1" fill="none"/>
<rect x="87.2" y="33.1" width="912.8" height="564.1" fill="none" stroke="#000" stroke-width="1.1"/>
<g style="font-size:28.5px"><text x="87.2" y="630.3" text-anchor="middle">0</text><text x="309.83" y="630.3" text-anchor="middle">20</text><text x="532.47" y="630.3" text-anchor="middle">40</text><text x="755.1" y="630.3" text-anchor="middle">60</text><text x="977.74" y="630.3" text-anchor="middle">80</text><text x="80" y="567.11" text-anchor="end">−2</text><text x="80" y="486.52" text-anchor="end">0</text><text x="80" y="405.94" text-anchor="end">2</text><text x="80" y="325.35" text-anchor="end">4</text><text x="80" y="244.77" text-anchor="end">6</text><text x="80" y="164.18" text-anchor="end">8</text><text x="80" y="83.6" text-anchor="end">10</text></g>
<text x="543.6" y="24.5" text-anchor="middle" style="font-size:34px">DoLP as a function of phase angle, B−filter</text>
<text x="543.6" y="679.8" text-anchor="middle" style="font-size:28.5px">phase angle (°)</text>
<text transform="translate(23.1 312.3) rotate(-90)" text-anchor="middle" style="font-size:28.5px">DoLP <tspan dx="4">(%)</tspan></text>
<path d="M1137.5 597.2v-11M1137.5 33.1v11M1359.96 597.2v-11M1359.96 33.1v11M1582.43 597.2v-11M1582.43 33.1v11M1804.89 597.2v-11M1804.89 33.1v11M2027.35 597.2v-11M2027.35 33.1v11M1193.12 597.2v-6.6M1193.12 33.1v6.6M1248.73 597.2v-6.6M1248.73 33.1v6.6M1304.35 597.2v-6.6M1304.35 33.1v6.6M1415.58 597.2v-6.6M1415.58 33.1v6.6M1471.2 597.2v-6.6M1471.2 33.1v6.6M1526.81 597.2v-6.6M1526.81 33.1v6.6M1638.04 597.2v-6.6M1638.04 33.1v6.6M1693.66 597.2v-6.6M1693.66 33.1v6.6M1749.27 597.2v-6.6M1749.27 33.1v6.6M1860.51 597.2v-6.6M1860.51 33.1v6.6M1916.12 597.2v-6.6M1916.12 33.1v6.6M1971.74 597.2v-6.6M1971.74 33.1v6.6M1137.5 556.91h11M2049.6 556.91h-11M1137.5 476.32h11M2049.6 476.32h-11M1137.5 395.74h11M2049.6 395.74h-11M1137.5 315.15h11M2049.6 315.15h-11M1137.5 234.56h11M2049.6 234.56h-11M1137.5 153.98h11M2049.6 153.98h-11M1137.5 73.39h11M2049.6 73.39h-11M1137.5 597.2h6.6M2049.6 597.2h-6.6M1137.5 577.05h6.6M2049.6 577.05h-6.6M1137.5 536.76h6.6M2049.6 536.76h-6.6M1137.5 516.61h6.6M2049.6 516.61h-6.6M1137.5 496.47h6.6M2049.6 496.47h-6.6M1137.5 456.18h6.6M2049.6 456.18h-6.6M1137.5 436.03h6.6M2049.6 436.03h-6.6M1137.5 415.88h6.6M2049.6 415.88h-6.6M1137.5 375.59h6.6M2049.6 375.59h-6.6M1137.5 355.44h6.6M2049.6 355.44h-6.6M1137.5 335.3h6.6M2049.6 335.3h-6.6M1137.5 295h6.6M2049.6 295h-6.6M1137.5 274.86h6.6M2049.6 274.86h-6.6M1137.5 254.71h6.6M2049.6 254.71h-6.6M1137.5 214.42h6.6M2049.6 214.42h-6.6M1137.5 194.27h6.6M2049.6 194.27h-6.6M1137.5 174.13h6.6M2049.6 174.13h-6.6M1137.5 133.83h6.6M2049.6 133.83h-6.6M1137.5 113.69h6.6M2049.6 113.69h-6.6M1137.5 93.54h6.6M2049.6 93.54h-6.6M1137.5 53.25h6.6M2049.6 53.25h-6.6M1137.5 33.1h6.6M2049.6 33.1h-6.6" stroke="#000" stroke-width="1.1" fill="none"/>
<rect x="1137.5" y="33.1" width="912.1" height="564.1" fill="none" stroke="#000" stroke-width="1.1"/>
<g style="font-size:28.5px"><text x="1137.5" y="630.3" text-anchor="middle">0</text><text x="1359.96" y="630.3" text-anchor="middle">20</text><text x="1582.43" y="630.3" text-anchor="middle">40</text><text x="1804.89" y="630.3" text-anchor="middle">60</text><text x="2027.35" y="630.3" text-anchor="middle">80</text><text x="1130.3" y="567.11" text-anchor="end">−2</text><text x="1130.3" y="486.52" text-anchor="end">0</text><text x="1130.3" y="405.94" text-anchor="end">2</text><text x="1130.3" y="325.35" text-anchor="end">4</text><text x="1130.3" y="244.77" text-anchor="end">6</text><text x="1130.3" y="164.18" text-anchor="end">8</text><text x="1130.3" y="83.6" text-anchor="end">10</text></g>
<text x="1593.55" y="24.5" text-anchor="middle" style="font-size:34px">DoLP as a function of phase angle, R−filter</text>
<text x="1593.55" y="679.8" text-anchor="middle" style="font-size:28.5px">phase angle (°)</text>
<text transform="translate(1073.4 312.3) rotate(-90)" text-anchor="middle" style="font-size:28.5px">DoLP <tspan dx="4">(%)</tspan></text>
<path d="M330.11 1357.1v-11M330.11 796.8v11M596.91 1357.1v-11M596.91 796.8v11M863.7 1357.1v-11M863.7 796.8v11M116.68 1357.1v-6.6M116.68 796.8v6.6M170.04 1357.1v-6.6M170.04 796.8v6.6M223.4 1357.1v-6.6M223.4 796.8v6.6M276.76 1357.1v-6.6M276.76 796.8v6.6M383.47 1357.1v-6.6M383.47 796.8v6.6M436.83 1357.1v-6.6M436.83 796.8v6.6M490.19 1357.1v-6.6M490.19 796.8v6.6M543.55 1357.1v-6.6M543.55 796.8v6.6M650.27 1357.1v-6.6M650.27 796.8v6.6M703.63 1357.1v-6.6M703.63 796.8v6.6M756.99 1357.1v-6.6M756.99 796.8v6.6M810.34 1357.1v-6.6M810.34 796.8v6.6M917.06 1357.1v-6.6M917.06 796.8v6.6M970.42 1357.1v-6.6M970.42 796.8v6.6M90 1336.35h11M997.1 1336.35h-11M90 1253.34h11M997.1 1253.34h-11M90 1170.33h11M997.1 1170.33h-11M90 1087.33h11M997.1 1087.33h-11M90 1004.32h11M997.1 1004.32h-11M90 921.31h11M997.1 921.31h-11M90 838.3h11M997.1 838.3h-11M90 1357.1h6.6M997.1 1357.1h-6.6M90 1315.6h6.6M997.1 1315.6h-6.6M90 1294.84h6.6M997.1 1294.84h-6.6M90 1274.09h6.6M997.1 1274.09h-6.6M90 1232.59h6.6M997.1 1232.59h-6.6M90 1211.84h6.6M997.1 1211.84h-6.6M90 1191.09h6.6M997.1 1191.09h-6.6M90 1149.58h6.6M997.1 1149.58h-6.6M90 1128.83h6.6M997.1 1128.83h-6.6M90 1108.08h6.6M997.1 1108.08h-6.6M90 1066.57h6.6M997.1 1066.57h-6.6M90 1045.82h6.6M997.1 1045.82h-6.6M90 1025.07h6.6M997.1 1025.07h-6.6M90 983.57h6.6M997.1 983.57h-6.6M90 962.81h6.6M997.1 962.81h-6.6M90 942.06h6.6M997.1 942.06h-6.6M90 900.56h6.6M997.1 900.56h-6.6M90 879.81h6.6M997.1 879.81h-6.6M90 859.06h6.6M997.1 859.06h-6.6M90 817.55h6.6M997.1 817.55h-6.6M90 796.8h6.6M997.1 796.8h-6.6" stroke="#000" stroke-width="1.1" fill="none"/>
<rect x="90" y="796.8" width="907.1" height="560.3" fill="none" stroke="#000" stroke-width="1.1"/>
<g style="font-size:31px"><text x="330.11" y="1393" text-anchor="middle">0</text><text x="596.91" y="1393" text-anchor="middle">50</text><text x="863.7" y="1393" text-anchor="middle">100</text><text x="82.2" y="1347.45" text-anchor="end">−2</text><text x="82.2" y="1264.44" text-anchor="end">0</text><text x="82.2" y="1181.43" text-anchor="end">2</text><text x="82.2" y="1098.42" text-anchor="end">4</text><text x="82.2" y="1015.42" text-anchor="end">6</text><text x="82.2" y="932.41" text-anchor="end">8</text><text x="82.2" y="849.4" text-anchor="end">10</text></g>
<text x="543.55" y="787.6" text-anchor="middle" style="font-size:37px">DoLP as a function of time from impact, B−filter</text>
<text x="543.55" y="1445.6" text-anchor="middle" style="font-size:31px">time (d)</text>
<text transform="translate(22.5 1074) rotate(-90)" text-anchor="middle" style="font-size:31px">DoLP <tspan dx="4.4">(%)</tspan></text>
<path d="M1380.49 1357.1v-11M1380.49 796.8v11M1647.25 1357.1v-11M1647.25 796.8v11M1914.02 1357.1v-11M1914.02 796.8v11M1167.08 1357.1v-6.6M1167.08 796.8v6.6M1220.43 1357.1v-6.6M1220.43 796.8v6.6M1273.78 1357.1v-6.6M1273.78 796.8v6.6M1327.14 1357.1v-6.6M1327.14 796.8v6.6M1433.84 1357.1v-6.6M1433.84 796.8v6.6M1487.19 1357.1v-6.6M1487.19 796.8v6.6M1540.55 1357.1v-6.6M1540.55 796.8v6.6M1593.9 1357.1v-6.6M1593.9 796.8v6.6M1700.61 1357.1v-6.6M1700.61 796.8v6.6M1753.96 1357.1v-6.6M1753.96 796.8v6.6M1807.31 1357.1v-6.6M1807.31 796.8v6.6M1860.66 1357.1v-6.6M1860.66 796.8v6.6M1967.37 1357.1v-6.6M1967.37 796.8v6.6M2020.72 1357.1v-6.6M2020.72 796.8v6.6M1140.4 1336.35h11M2047.4 1336.35h-11M1140.4 1253.34h11M2047.4 1253.34h-11M1140.4 1170.33h11M2047.4 1170.33h-11M1140.4 1087.33h11M2047.4 1087.33h-11M1140.4 1004.32h11M2047.4 1004.32h-11M1140.4 921.31h11M2047.4 921.31h-11M1140.4 838.3h11M2047.4 838.3h-11M1140.4 1357.1h6.6M2047.4 1357.1h-6.6M1140.4 1315.6h6.6M2047.4 1315.6h-6.6M1140.4 1294.84h6.6M2047.4 1294.84h-6.6M1140.4 1274.09h6.6M2047.4 1274.09h-6.6M1140.4 1232.59h6.6M2047.4 1232.59h-6.6M1140.4 1211.84h6.6M2047.4 1211.84h-6.6M1140.4 1191.09h6.6M2047.4 1191.09h-6.6M1140.4 1149.58h6.6M2047.4 1149.58h-6.6M1140.4 1128.83h6.6M2047.4 1128.83h-6.6M1140.4 1108.08h6.6M2047.4 1108.08h-6.6M1140.4 1066.57h6.6M2047.4 1066.57h-6.6M1140.4 1045.82h6.6M2047.4 1045.82h-6.6M1140.4 1025.07h6.6M2047.4 1025.07h-6.6M1140.4 983.57h6.6M2047.4 983.57h-6.6M1140.4 962.81h6.6M2047.4 962.81h-6.6M1140.4 942.06h6.6M2047.4 942.06h-6.6M1140.4 900.56h6.6M2047.4 900.56h-6.6M1140.4 879.81h6.6M2047.4 879.81h-6.6M1140.4 859.06h6.6M2047.4 859.06h-6.6M1140.4 817.55h6.6M2047.4 817.55h-6.6M1140.4 796.8h6.6M2047.4 796.8h-6.6" stroke="#000" stroke-width="1.1" fill="none"/>
<rect x="1140.4" y="796.8" width="907" height="560.3" fill="none" stroke="#000" stroke-width="1.1"/>
<g style="font-size:31px"><text x="1380.49" y="1393" text-anchor="middle">0</text><text x="1647.25" y="1393" text-anchor="middle">50</text><text x="1914.02" y="1393" text-anchor="middle">100</text><text x="1132.6" y="1347.45" text-anchor="end">−2</text><text x="1132.6" y="1264.44" text-anchor="end">0</text><text x="1132.6" y="1181.43" text-anchor="end">2</text><text x="1132.6" y="1098.42" text-anchor="end">4</text><text x="1132.6" y="1015.42" text-anchor="end">6</text><text x="1132.6" y="932.41" text-anchor="end">8</text><text x="1132.6" y="849.4" text-anchor="end">10</text></g>
<text x="1593.9" y="787.6" text-anchor="middle" style="font-size:37px">DoLP as a function of time from impact, R−filter</text>
<text x="1593.9" y="1445.6" text-anchor="middle" style="font-size:31px">time (d)</text>
<text transform="translate(1072.9 1074) rotate(-90)" text-anchor="middle" style="font-size:31px">DoLP <tspan dx="4.4">(%)</tspan></text>
<rect x="1730.9" y="335.8" width="303.6" height="128.4" fill="#fff" stroke="#333" stroke-width="1.1"/>
<circle cx="1752.3" cy="368.2" r="9.4" fill="#5A68AE"/>
<circle cx="1752.3" cy="433" r="9.4" fill="#C8912E"/>
<text x="1776.7" y="380.7" style="font-size:42.8px">pre-impact</text>
<text x="1776.7" y="445.5" style="font-size:42.8px">post-impact</text></svg>
</body></html>
